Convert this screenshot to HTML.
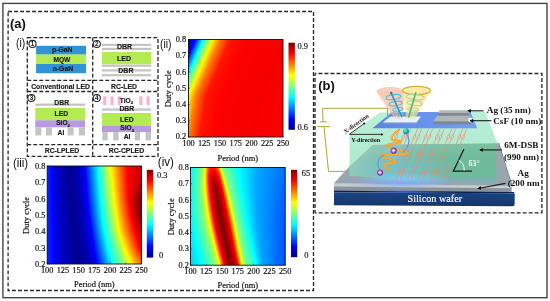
<!DOCTYPE html><html><head><meta charset="utf-8"><title>figure</title><style>html,body{margin:0;padding:0;background:#fff}svg{display:block}</style></head><body><svg width="550" height="301" viewBox="0 0 550 301"><defs><linearGradient id="b0"><stop offset="0.000" stop-color="#00009a"/><stop offset="0.069" stop-color="#0000ff"/><stop offset="0.148" stop-color="#00ffff"/><stop offset="0.199" stop-color="#80ff80"/><stop offset="0.249" stop-color="#ffff00"/><stop offset="0.326" stop-color="#ff8000"/><stop offset="0.440" stop-color="#ff1400"/><stop offset="0.606" stop-color="#ff0000"/><stop offset="0.630" stop-color="#fc0000"/><stop offset="1.000" stop-color="#f50000"/></linearGradient><linearGradient id="b1"><stop offset="0.000" stop-color="#0000a8"/><stop offset="0.060" stop-color="#0000ff"/><stop offset="0.139" stop-color="#00ffff"/><stop offset="0.190" stop-color="#80ff80"/><stop offset="0.240" stop-color="#ffff00"/><stop offset="0.317" stop-color="#ff8000"/><stop offset="0.431" stop-color="#ff1400"/><stop offset="0.597" stop-color="#ff0000"/><stop offset="0.621" stop-color="#fc0000"/><stop offset="1.000" stop-color="#f50000"/></linearGradient><linearGradient id="b2"><stop offset="0.000" stop-color="#0000b5"/><stop offset="0.051" stop-color="#0000ff"/><stop offset="0.130" stop-color="#00ffff"/><stop offset="0.181" stop-color="#80ff80"/><stop offset="0.231" stop-color="#ffff00"/><stop offset="0.308" stop-color="#ff8000"/><stop offset="0.422" stop-color="#ff1400"/><stop offset="0.588" stop-color="#ff0000"/><stop offset="0.612" stop-color="#fc0000"/><stop offset="0.993" stop-color="#f50000"/><stop offset="1.000" stop-color="#f50000"/></linearGradient><linearGradient id="b3"><stop offset="0.000" stop-color="#0000c2"/><stop offset="0.042" stop-color="#0000ff"/><stop offset="0.121" stop-color="#00ffff"/><stop offset="0.172" stop-color="#80ff80"/><stop offset="0.222" stop-color="#ffff00"/><stop offset="0.299" stop-color="#ff8000"/><stop offset="0.413" stop-color="#ff1400"/><stop offset="0.579" stop-color="#ff0000"/><stop offset="0.603" stop-color="#fc0000"/><stop offset="0.984" stop-color="#f50000"/><stop offset="1.000" stop-color="#f50000"/></linearGradient><linearGradient id="b4"><stop offset="0.000" stop-color="#0000cf"/><stop offset="0.033" stop-color="#0000ff"/><stop offset="0.112" stop-color="#00ffff"/><stop offset="0.163" stop-color="#80ff80"/><stop offset="0.213" stop-color="#ffff00"/><stop offset="0.290" stop-color="#ff8000"/><stop offset="0.404" stop-color="#ff1400"/><stop offset="0.570" stop-color="#ff0000"/><stop offset="0.594" stop-color="#fc0000"/><stop offset="0.975" stop-color="#f50000"/><stop offset="1.000" stop-color="#f60000"/></linearGradient><linearGradient id="b5"><stop offset="0.000" stop-color="#0000dc"/><stop offset="0.024" stop-color="#0000ff"/><stop offset="0.103" stop-color="#00ffff"/><stop offset="0.154" stop-color="#80ff80"/><stop offset="0.204" stop-color="#ffff00"/><stop offset="0.281" stop-color="#ff8000"/><stop offset="0.395" stop-color="#ff1400"/><stop offset="0.560" stop-color="#ff0000"/><stop offset="0.585" stop-color="#fc0000"/><stop offset="0.966" stop-color="#f50000"/><stop offset="1.000" stop-color="#f60000"/></linearGradient><linearGradient id="b6"><stop offset="0.000" stop-color="#0000e9"/><stop offset="0.015" stop-color="#0000ff"/><stop offset="0.094" stop-color="#00ffff"/><stop offset="0.144" stop-color="#80ff80"/><stop offset="0.195" stop-color="#ffff00"/><stop offset="0.271" stop-color="#ff8000"/><stop offset="0.386" stop-color="#ff1400"/><stop offset="0.551" stop-color="#ff0000"/><stop offset="0.576" stop-color="#fc0000"/><stop offset="0.957" stop-color="#f50000"/><stop offset="1.000" stop-color="#f60000"/></linearGradient><linearGradient id="b7"><stop offset="0.000" stop-color="#0000f6"/><stop offset="0.006" stop-color="#0000ff"/><stop offset="0.085" stop-color="#00ffff"/><stop offset="0.135" stop-color="#80ff80"/><stop offset="0.186" stop-color="#ffff00"/><stop offset="0.262" stop-color="#ff8000"/><stop offset="0.377" stop-color="#ff1400"/><stop offset="0.542" stop-color="#ff0000"/><stop offset="0.567" stop-color="#fc0000"/><stop offset="0.948" stop-color="#f50000"/><stop offset="1.000" stop-color="#f60000"/></linearGradient><linearGradient id="b8"><stop offset="0.000" stop-color="#000aff"/><stop offset="0.076" stop-color="#00ffff"/><stop offset="0.126" stop-color="#80ff80"/><stop offset="0.177" stop-color="#ffff00"/><stop offset="0.253" stop-color="#ff8000"/><stop offset="0.368" stop-color="#ff1400"/><stop offset="0.533" stop-color="#ff0000"/><stop offset="0.558" stop-color="#fc0000"/><stop offset="0.939" stop-color="#f50000"/><stop offset="1.000" stop-color="#f70000"/></linearGradient><linearGradient id="b9"><stop offset="0.000" stop-color="#0027ff"/><stop offset="0.067" stop-color="#00ffff"/><stop offset="0.117" stop-color="#80ff80"/><stop offset="0.168" stop-color="#ffff00"/><stop offset="0.244" stop-color="#ff8000"/><stop offset="0.359" stop-color="#ff1400"/><stop offset="0.524" stop-color="#ff0000"/><stop offset="0.549" stop-color="#fc0000"/><stop offset="0.930" stop-color="#f50000"/><stop offset="1.000" stop-color="#f70000"/></linearGradient><linearGradient id="b10"><stop offset="0.000" stop-color="#0045ff"/><stop offset="0.058" stop-color="#00ffff"/><stop offset="0.108" stop-color="#80ff80"/><stop offset="0.159" stop-color="#ffff00"/><stop offset="0.235" stop-color="#ff8000"/><stop offset="0.350" stop-color="#ff1400"/><stop offset="0.515" stop-color="#ff0000"/><stop offset="0.540" stop-color="#fc0000"/><stop offset="0.921" stop-color="#f50000"/><stop offset="1.000" stop-color="#f70000"/></linearGradient><linearGradient id="b11"><stop offset="0.000" stop-color="#0062ff"/><stop offset="0.049" stop-color="#00ffff"/><stop offset="0.099" stop-color="#80ff80"/><stop offset="0.150" stop-color="#ffff00"/><stop offset="0.226" stop-color="#ff8000"/><stop offset="0.341" stop-color="#ff1400"/><stop offset="0.506" stop-color="#ff0000"/><stop offset="0.531" stop-color="#fc0000"/><stop offset="0.912" stop-color="#f50000"/><stop offset="1.000" stop-color="#f70000"/></linearGradient><linearGradient id="b12"><stop offset="0.000" stop-color="#007fff"/><stop offset="0.040" stop-color="#00ffff"/><stop offset="0.090" stop-color="#80ff80"/><stop offset="0.141" stop-color="#ffff00"/><stop offset="0.217" stop-color="#ff8000"/><stop offset="0.332" stop-color="#ff1400"/><stop offset="0.497" stop-color="#ff0000"/><stop offset="0.522" stop-color="#fc0000"/><stop offset="0.903" stop-color="#f50000"/><stop offset="1.000" stop-color="#f80000"/></linearGradient><linearGradient id="b13"><stop offset="0.000" stop-color="#009cff"/><stop offset="0.030" stop-color="#00ffff"/><stop offset="0.081" stop-color="#80ff80"/><stop offset="0.132" stop-color="#ffff00"/><stop offset="0.208" stop-color="#ff8000"/><stop offset="0.323" stop-color="#ff1400"/><stop offset="0.488" stop-color="#ff0000"/><stop offset="0.513" stop-color="#fc0000"/><stop offset="0.894" stop-color="#f50000"/><stop offset="1.000" stop-color="#f80000"/></linearGradient><linearGradient id="b14"><stop offset="0.000" stop-color="#00baff"/><stop offset="0.021" stop-color="#00ffff"/><stop offset="0.072" stop-color="#80ff80"/><stop offset="0.123" stop-color="#ffff00"/><stop offset="0.199" stop-color="#ff8000"/><stop offset="0.314" stop-color="#ff1400"/><stop offset="0.479" stop-color="#ff0000"/><stop offset="0.504" stop-color="#fc0000"/><stop offset="0.885" stop-color="#f50000"/><stop offset="1.000" stop-color="#f80000"/></linearGradient><linearGradient id="b15"><stop offset="0.000" stop-color="#00d7ff"/><stop offset="0.012" stop-color="#00ffff"/><stop offset="0.063" stop-color="#80ff80"/><stop offset="0.114" stop-color="#ffff00"/><stop offset="0.190" stop-color="#ff8000"/><stop offset="0.305" stop-color="#ff1400"/><stop offset="0.470" stop-color="#ff0000"/><stop offset="0.495" stop-color="#fc0000"/><stop offset="0.876" stop-color="#f50000"/><stop offset="1.000" stop-color="#f90000"/></linearGradient><linearGradient id="b16"><stop offset="0.000" stop-color="#00f4ff"/><stop offset="0.003" stop-color="#00ffff"/><stop offset="0.054" stop-color="#80ff80"/><stop offset="0.105" stop-color="#ffff00"/><stop offset="0.181" stop-color="#ff8000"/><stop offset="0.295" stop-color="#ff1400"/><stop offset="0.461" stop-color="#ff0000"/><stop offset="0.486" stop-color="#fc0000"/><stop offset="0.867" stop-color="#f50000"/><stop offset="1.000" stop-color="#f90000"/></linearGradient><linearGradient id="b17"><stop offset="0.000" stop-color="#0efff1"/><stop offset="0.045" stop-color="#80ff80"/><stop offset="0.096" stop-color="#ffff00"/><stop offset="0.172" stop-color="#ff8000"/><stop offset="0.286" stop-color="#ff1400"/><stop offset="0.452" stop-color="#ff0000"/><stop offset="0.477" stop-color="#fc0000"/><stop offset="0.858" stop-color="#f50000"/><stop offset="1.000" stop-color="#f90000"/></linearGradient><linearGradient id="b18"><stop offset="0.000" stop-color="#25ffda"/><stop offset="0.036" stop-color="#80ff80"/><stop offset="0.087" stop-color="#ffff00"/><stop offset="0.163" stop-color="#ff8000"/><stop offset="0.277" stop-color="#ff1400"/><stop offset="0.443" stop-color="#ff0000"/><stop offset="0.468" stop-color="#fc0000"/><stop offset="0.849" stop-color="#f50000"/><stop offset="1.000" stop-color="#f90000"/></linearGradient><linearGradient id="b19"><stop offset="0.000" stop-color="#3bffc4"/><stop offset="0.027" stop-color="#80ff80"/><stop offset="0.078" stop-color="#ffff00"/><stop offset="0.154" stop-color="#ff8000"/><stop offset="0.268" stop-color="#ff1400"/><stop offset="0.434" stop-color="#ff0000"/><stop offset="0.459" stop-color="#fc0000"/><stop offset="0.840" stop-color="#f50000"/><stop offset="1.000" stop-color="#fa0000"/></linearGradient><linearGradient id="b20"><stop offset="0.000" stop-color="#52ffad"/><stop offset="0.018" stop-color="#80ff80"/><stop offset="0.069" stop-color="#ffff00"/><stop offset="0.145" stop-color="#ff8000"/><stop offset="0.259" stop-color="#ff1400"/><stop offset="0.425" stop-color="#ff0000"/><stop offset="0.450" stop-color="#fc0000"/><stop offset="0.831" stop-color="#f50000"/><stop offset="1.000" stop-color="#fa0000"/></linearGradient><linearGradient id="b21"><stop offset="0.000" stop-color="#69ff96"/><stop offset="0.009" stop-color="#80ff80"/><stop offset="0.060" stop-color="#ffff00"/><stop offset="0.136" stop-color="#ff8000"/><stop offset="0.250" stop-color="#ff1400"/><stop offset="0.416" stop-color="#ff0000"/><stop offset="0.441" stop-color="#fc0000"/><stop offset="0.822" stop-color="#f50000"/><stop offset="1.000" stop-color="#fa0000"/></linearGradient><linearGradient id="b22"><stop offset="0.000" stop-color="#7fff80"/><stop offset="0.000" stop-color="#80ff80"/><stop offset="0.051" stop-color="#ffff00"/><stop offset="0.127" stop-color="#ff8000"/><stop offset="0.241" stop-color="#ff1400"/><stop offset="0.407" stop-color="#ff0000"/><stop offset="0.432" stop-color="#fc0000"/><stop offset="0.813" stop-color="#f50000"/><stop offset="1.000" stop-color="#fa0000"/></linearGradient><linearGradient id="b23"><stop offset="0.000" stop-color="#96ff69"/><stop offset="0.042" stop-color="#ffff00"/><stop offset="0.118" stop-color="#ff8000"/><stop offset="0.232" stop-color="#ff1400"/><stop offset="0.398" stop-color="#ff0000"/><stop offset="0.423" stop-color="#fc0000"/><stop offset="0.804" stop-color="#f50000"/><stop offset="1.000" stop-color="#fb0000"/></linearGradient><linearGradient id="b24"><stop offset="0.000" stop-color="#adff52"/><stop offset="0.033" stop-color="#ffff00"/><stop offset="0.109" stop-color="#ff8000"/><stop offset="0.223" stop-color="#ff1400"/><stop offset="0.389" stop-color="#ff0000"/><stop offset="0.414" stop-color="#fc0000"/><stop offset="0.795" stop-color="#f50000"/><stop offset="1.000" stop-color="#fb0000"/></linearGradient><linearGradient id="b25"><stop offset="0.000" stop-color="#c3ff3c"/><stop offset="0.024" stop-color="#ffff00"/><stop offset="0.100" stop-color="#ff8000"/><stop offset="0.214" stop-color="#ff1400"/><stop offset="0.380" stop-color="#ff0000"/><stop offset="0.405" stop-color="#fc0000"/><stop offset="0.786" stop-color="#f50000"/><stop offset="1.000" stop-color="#fb0000"/></linearGradient><linearGradient id="b26"><stop offset="0.000" stop-color="#daff25"/><stop offset="0.015" stop-color="#ffff00"/><stop offset="0.091" stop-color="#ff8000"/><stop offset="0.205" stop-color="#ff1400"/><stop offset="0.371" stop-color="#ff0000"/><stop offset="0.396" stop-color="#fc0000"/><stop offset="0.777" stop-color="#f50000"/><stop offset="1.000" stop-color="#fc0000"/></linearGradient><linearGradient id="b27"><stop offset="0.000" stop-color="#f1ff0e"/><stop offset="0.006" stop-color="#ffff00"/><stop offset="0.082" stop-color="#ff8000"/><stop offset="0.196" stop-color="#ff1400"/><stop offset="0.362" stop-color="#ff0000"/><stop offset="0.387" stop-color="#fc0000"/><stop offset="0.768" stop-color="#f50000"/><stop offset="1.000" stop-color="#fc0000"/></linearGradient><linearGradient id="b28"><stop offset="0.000" stop-color="#fffd00"/><stop offset="0.075" stop-color="#ff8000"/><stop offset="0.189" stop-color="#ff1400"/><stop offset="0.355" stop-color="#ff0000"/><stop offset="0.380" stop-color="#fc0000"/><stop offset="0.761" stop-color="#f50000"/><stop offset="1.000" stop-color="#fc0000"/></linearGradient><linearGradient id="b29"><stop offset="0.000" stop-color="#fff700"/><stop offset="0.071" stop-color="#ff8000"/><stop offset="0.185" stop-color="#ff1400"/><stop offset="0.351" stop-color="#ff0000"/><stop offset="0.376" stop-color="#fc0000"/><stop offset="0.757" stop-color="#f50000"/><stop offset="1.000" stop-color="#fc0000"/></linearGradient><linearGradient id="b30"><stop offset="0.000" stop-color="#fff000"/><stop offset="0.068" stop-color="#ff8000"/><stop offset="0.182" stop-color="#ff1400"/><stop offset="0.347" stop-color="#ff0000"/><stop offset="0.372" stop-color="#fc0000"/><stop offset="0.753" stop-color="#f50000"/><stop offset="1.000" stop-color="#fc0000"/></linearGradient><linearGradient id="b31"><stop offset="0.000" stop-color="#ffea00"/><stop offset="0.064" stop-color="#ff8000"/><stop offset="0.178" stop-color="#ff1400"/><stop offset="0.344" stop-color="#ff0000"/><stop offset="0.369" stop-color="#fc0000"/><stop offset="0.750" stop-color="#f50000"/><stop offset="1.000" stop-color="#fc0000"/></linearGradient><linearGradient id="b32"><stop offset="0.000" stop-color="#ffe400"/><stop offset="0.060" stop-color="#ff8000"/><stop offset="0.175" stop-color="#ff1400"/><stop offset="0.340" stop-color="#ff0000"/><stop offset="0.365" stop-color="#fc0000"/><stop offset="0.746" stop-color="#f50000"/><stop offset="1.000" stop-color="#fc0000"/></linearGradient><linearGradient id="b33"><stop offset="0.000" stop-color="#ffde00"/><stop offset="0.057" stop-color="#ff8000"/><stop offset="0.171" stop-color="#ff1400"/><stop offset="0.337" stop-color="#ff0000"/><stop offset="0.361" stop-color="#fc0000"/><stop offset="0.742" stop-color="#f50000"/><stop offset="1.000" stop-color="#fd0000"/></linearGradient><linearGradient id="b34"><stop offset="0.000" stop-color="#ffd800"/><stop offset="0.053" stop-color="#ff8000"/><stop offset="0.167" stop-color="#ff1400"/><stop offset="0.333" stop-color="#ff0000"/><stop offset="0.358" stop-color="#fc0000"/><stop offset="0.739" stop-color="#f50000"/><stop offset="1.000" stop-color="#fd0000"/></linearGradient><linearGradient id="b35"><stop offset="0.000" stop-color="#ffd200"/><stop offset="0.049" stop-color="#ff8000"/><stop offset="0.164" stop-color="#ff1400"/><stop offset="0.329" stop-color="#ff0000"/><stop offset="0.354" stop-color="#fc0000"/><stop offset="0.735" stop-color="#f50000"/><stop offset="1.000" stop-color="#fd0000"/></linearGradient><linearGradient id="b36"><stop offset="0.000" stop-color="#ffcc00"/><stop offset="0.046" stop-color="#ff8000"/><stop offset="0.160" stop-color="#ff1400"/><stop offset="0.326" stop-color="#ff0000"/><stop offset="0.350" stop-color="#fc0000"/><stop offset="0.731" stop-color="#f50000"/><stop offset="1.000" stop-color="#fd0000"/></linearGradient><linearGradient id="b37"><stop offset="0.000" stop-color="#ffc600"/><stop offset="0.042" stop-color="#ff8000"/><stop offset="0.156" stop-color="#ff1400"/><stop offset="0.322" stop-color="#ff0000"/><stop offset="0.347" stop-color="#fc0000"/><stop offset="0.728" stop-color="#f50000"/><stop offset="1.000" stop-color="#fd0000"/></linearGradient><linearGradient id="b38"><stop offset="0.000" stop-color="#ffc000"/><stop offset="0.038" stop-color="#ff8000"/><stop offset="0.153" stop-color="#ff1400"/><stop offset="0.318" stop-color="#ff0000"/><stop offset="0.343" stop-color="#fc0000"/><stop offset="0.724" stop-color="#f50000"/><stop offset="1.000" stop-color="#fd0000"/></linearGradient><linearGradient id="b39"><stop offset="0.000" stop-color="#ffba00"/><stop offset="0.035" stop-color="#ff8000"/><stop offset="0.149" stop-color="#ff1400"/><stop offset="0.315" stop-color="#ff0000"/><stop offset="0.339" stop-color="#fc0000"/><stop offset="0.720" stop-color="#f50000"/><stop offset="1.000" stop-color="#fd0000"/></linearGradient><linearGradient id="b40"><stop offset="0.000" stop-color="#ffb300"/><stop offset="0.031" stop-color="#ff8000"/><stop offset="0.145" stop-color="#ff1400"/><stop offset="0.311" stop-color="#ff0000"/><stop offset="0.336" stop-color="#fc0000"/><stop offset="0.717" stop-color="#f50000"/><stop offset="1.000" stop-color="#fd0000"/></linearGradient><linearGradient id="b41"><stop offset="0.000" stop-color="#ffad00"/><stop offset="0.027" stop-color="#ff8000"/><stop offset="0.142" stop-color="#ff1400"/><stop offset="0.307" stop-color="#ff0000"/><stop offset="0.332" stop-color="#fc0000"/><stop offset="0.713" stop-color="#f50000"/><stop offset="1.000" stop-color="#fd0000"/></linearGradient><linearGradient id="b42"><stop offset="0.000" stop-color="#ffa700"/><stop offset="0.024" stop-color="#ff8000"/><stop offset="0.138" stop-color="#ff1400"/><stop offset="0.304" stop-color="#ff0000"/><stop offset="0.329" stop-color="#fc0000"/><stop offset="0.710" stop-color="#f50000"/><stop offset="1.000" stop-color="#fe0000"/></linearGradient><linearGradient id="b43"><stop offset="0.000" stop-color="#ffa100"/><stop offset="0.020" stop-color="#ff8000"/><stop offset="0.134" stop-color="#ff1400"/><stop offset="0.300" stop-color="#ff0000"/><stop offset="0.325" stop-color="#fc0000"/><stop offset="0.706" stop-color="#f50000"/><stop offset="1.000" stop-color="#fe0000"/></linearGradient><linearGradient id="b44"><stop offset="0.000" stop-color="#ff9b00"/><stop offset="0.016" stop-color="#ff8000"/><stop offset="0.131" stop-color="#ff1400"/><stop offset="0.296" stop-color="#ff0000"/><stop offset="0.321" stop-color="#fc0000"/><stop offset="0.702" stop-color="#f50000"/><stop offset="1.000" stop-color="#fe0000"/></linearGradient><linearGradient id="b45"><stop offset="0.000" stop-color="#ff9500"/><stop offset="0.013" stop-color="#ff8000"/><stop offset="0.127" stop-color="#ff1400"/><stop offset="0.293" stop-color="#ff0000"/><stop offset="0.318" stop-color="#fc0000"/><stop offset="0.699" stop-color="#f50000"/><stop offset="1.000" stop-color="#fe0000"/></linearGradient><linearGradient id="b46"><stop offset="0.000" stop-color="#ff8f00"/><stop offset="0.009" stop-color="#ff8000"/><stop offset="0.123" stop-color="#ff1400"/><stop offset="0.289" stop-color="#ff0000"/><stop offset="0.314" stop-color="#fc0000"/><stop offset="0.695" stop-color="#f50000"/><stop offset="1.000" stop-color="#fe0000"/></linearGradient><linearGradient id="b47"><stop offset="0.000" stop-color="#ff8900"/><stop offset="0.005" stop-color="#ff8000"/><stop offset="0.120" stop-color="#ff1400"/><stop offset="0.285" stop-color="#ff0000"/><stop offset="0.310" stop-color="#fc0000"/><stop offset="0.691" stop-color="#f50000"/><stop offset="1.000" stop-color="#fe0000"/></linearGradient><linearGradient id="b48"><stop offset="0.000" stop-color="#ff8300"/><stop offset="0.002" stop-color="#ff8000"/><stop offset="0.116" stop-color="#ff1400"/><stop offset="0.282" stop-color="#ff0000"/><stop offset="0.307" stop-color="#fc0000"/><stop offset="0.688" stop-color="#f50000"/><stop offset="1.000" stop-color="#fe0000"/></linearGradient><linearGradient id="cb2" x1="0" y1="0" x2="0" y2="1"><stop offset="0" stop-color="#800000"/><stop offset="0.125" stop-color="#ff0000"/><stop offset="0.375" stop-color="#ffff00"/><stop offset="0.5" stop-color="#80ff80"/><stop offset="0.625" stop-color="#00ffff"/><stop offset="0.875" stop-color="#0000ff"/><stop offset="1" stop-color="#000080"/></linearGradient><linearGradient id="c0"><stop offset="0.000" stop-color="#002eff"/><stop offset="0.050" stop-color="#0000ff"/><stop offset="0.110" stop-color="#0000c7"/><stop offset="0.236" stop-color="#00008f"/><stop offset="0.331" stop-color="#0000bd"/><stop offset="0.401" stop-color="#0000ff"/><stop offset="0.538" stop-color="#00ffff"/><stop offset="0.606" stop-color="#80ff80"/><stop offset="0.671" stop-color="#ffff00"/><stop offset="0.754" stop-color="#ff8000"/><stop offset="0.850" stop-color="#ff0000"/><stop offset="1.000" stop-color="#ce0000"/></linearGradient><linearGradient id="c1"><stop offset="0.000" stop-color="#002eff"/><stop offset="0.050" stop-color="#0000ff"/><stop offset="0.111" stop-color="#0000c7"/><stop offset="0.237" stop-color="#00008f"/><stop offset="0.333" stop-color="#0000bd"/><stop offset="0.402" stop-color="#0000ff"/><stop offset="0.539" stop-color="#00ffff"/><stop offset="0.608" stop-color="#80ff80"/><stop offset="0.673" stop-color="#ffff00"/><stop offset="0.755" stop-color="#ff8000"/><stop offset="0.851" stop-color="#ff0000"/><stop offset="1.000" stop-color="#cc0000"/></linearGradient><linearGradient id="c2"><stop offset="0.000" stop-color="#002eff"/><stop offset="0.050" stop-color="#0000ff"/><stop offset="0.112" stop-color="#0000c7"/><stop offset="0.239" stop-color="#00008f"/><stop offset="0.335" stop-color="#0000bd"/><stop offset="0.404" stop-color="#0000ff"/><stop offset="0.541" stop-color="#00ffff"/><stop offset="0.610" stop-color="#80ff80"/><stop offset="0.676" stop-color="#ffff00"/><stop offset="0.757" stop-color="#ff8000"/><stop offset="0.852" stop-color="#ff0000"/><stop offset="1.000" stop-color="#ca0000"/></linearGradient><linearGradient id="c3"><stop offset="0.000" stop-color="#002eff"/><stop offset="0.051" stop-color="#0000ff"/><stop offset="0.112" stop-color="#0000c7"/><stop offset="0.241" stop-color="#00008f"/><stop offset="0.337" stop-color="#0000bd"/><stop offset="0.406" stop-color="#0000ff"/><stop offset="0.543" stop-color="#00ffff"/><stop offset="0.611" stop-color="#80ff80"/><stop offset="0.678" stop-color="#ffff00"/><stop offset="0.759" stop-color="#ff8000"/><stop offset="0.852" stop-color="#ff0000"/><stop offset="1.000" stop-color="#c70000"/></linearGradient><linearGradient id="c4"><stop offset="0.000" stop-color="#002eff"/><stop offset="0.051" stop-color="#0000ff"/><stop offset="0.113" stop-color="#0000c7"/><stop offset="0.242" stop-color="#00008f"/><stop offset="0.339" stop-color="#0000bd"/><stop offset="0.407" stop-color="#0000ff"/><stop offset="0.544" stop-color="#00ffff"/><stop offset="0.613" stop-color="#80ff80"/><stop offset="0.680" stop-color="#ffff00"/><stop offset="0.760" stop-color="#ff8000"/><stop offset="0.853" stop-color="#ff0000"/><stop offset="1.000" stop-color="#c40000"/></linearGradient><linearGradient id="c5"><stop offset="0.000" stop-color="#002eff"/><stop offset="0.051" stop-color="#0000ff"/><stop offset="0.114" stop-color="#0000c7"/><stop offset="0.244" stop-color="#00008f"/><stop offset="0.341" stop-color="#0000bd"/><stop offset="0.409" stop-color="#0000ff"/><stop offset="0.546" stop-color="#00ffff"/><stop offset="0.615" stop-color="#80ff80"/><stop offset="0.683" stop-color="#ffff00"/><stop offset="0.762" stop-color="#ff8000"/><stop offset="0.854" stop-color="#ff0000"/><stop offset="1.000" stop-color="#c10000"/></linearGradient><linearGradient id="c6"><stop offset="0.000" stop-color="#002eff"/><stop offset="0.051" stop-color="#0000ff"/><stop offset="0.114" stop-color="#0000c7"/><stop offset="0.245" stop-color="#00008f"/><stop offset="0.342" stop-color="#0000bd"/><stop offset="0.410" stop-color="#0000ff"/><stop offset="0.547" stop-color="#00ffff"/><stop offset="0.617" stop-color="#80ff80"/><stop offset="0.685" stop-color="#ffff00"/><stop offset="0.763" stop-color="#ff8000"/><stop offset="0.855" stop-color="#ff0000"/><stop offset="1.000" stop-color="#be0000"/></linearGradient><linearGradient id="c7"><stop offset="0.000" stop-color="#002eff"/><stop offset="0.052" stop-color="#0000ff"/><stop offset="0.115" stop-color="#0000c7"/><stop offset="0.247" stop-color="#00008f"/><stop offset="0.344" stop-color="#0000bd"/><stop offset="0.412" stop-color="#0000ff"/><stop offset="0.549" stop-color="#00ffff"/><stop offset="0.619" stop-color="#80ff80"/><stop offset="0.687" stop-color="#ffff00"/><stop offset="0.765" stop-color="#ff8000"/><stop offset="0.855" stop-color="#ff0000"/><stop offset="1.000" stop-color="#ba0000"/></linearGradient><linearGradient id="c8"><stop offset="0.000" stop-color="#002eff"/><stop offset="0.052" stop-color="#0000ff"/><stop offset="0.115" stop-color="#0000c7"/><stop offset="0.249" stop-color="#00008f"/><stop offset="0.346" stop-color="#0000bd"/><stop offset="0.414" stop-color="#0000ff"/><stop offset="0.551" stop-color="#00ffff"/><stop offset="0.621" stop-color="#80ff80"/><stop offset="0.690" stop-color="#ffff00"/><stop offset="0.767" stop-color="#ff8000"/><stop offset="0.856" stop-color="#ff0000"/><stop offset="1.000" stop-color="#b50000"/></linearGradient><linearGradient id="c9"><stop offset="0.000" stop-color="#002eff"/><stop offset="0.052" stop-color="#0000ff"/><stop offset="0.116" stop-color="#0000c7"/><stop offset="0.250" stop-color="#00008f"/><stop offset="0.348" stop-color="#0000bd"/><stop offset="0.415" stop-color="#0000ff"/><stop offset="0.552" stop-color="#00ffff"/><stop offset="0.623" stop-color="#80ff80"/><stop offset="0.692" stop-color="#ffff00"/><stop offset="0.768" stop-color="#ff8000"/><stop offset="0.857" stop-color="#ff0000"/><stop offset="1.000" stop-color="#af0000"/></linearGradient><linearGradient id="c10"><stop offset="0.000" stop-color="#002eff"/><stop offset="0.053" stop-color="#0000ff"/><stop offset="0.117" stop-color="#0000c7"/><stop offset="0.252" stop-color="#00008f"/><stop offset="0.350" stop-color="#0000bd"/><stop offset="0.417" stop-color="#0000ff"/><stop offset="0.554" stop-color="#00ffff"/><stop offset="0.624" stop-color="#80ff80"/><stop offset="0.694" stop-color="#ffff00"/><stop offset="0.770" stop-color="#ff8000"/><stop offset="0.857" stop-color="#ff0000"/><stop offset="1.000" stop-color="#a90000"/></linearGradient><linearGradient id="c11"><stop offset="0.000" stop-color="#002eff"/><stop offset="0.053" stop-color="#0000ff"/><stop offset="0.117" stop-color="#0000c7"/><stop offset="0.253" stop-color="#00008f"/><stop offset="0.352" stop-color="#0000bd"/><stop offset="0.418" stop-color="#0000ff"/><stop offset="0.555" stop-color="#00ffff"/><stop offset="0.626" stop-color="#80ff80"/><stop offset="0.696" stop-color="#ffff00"/><stop offset="0.771" stop-color="#ff8000"/><stop offset="0.858" stop-color="#ff0000"/><stop offset="1.000" stop-color="#a20000"/></linearGradient><linearGradient id="c12"><stop offset="0.000" stop-color="#002eff"/><stop offset="0.053" stop-color="#0000ff"/><stop offset="0.118" stop-color="#0000c7"/><stop offset="0.255" stop-color="#00008f"/><stop offset="0.354" stop-color="#0000bd"/><stop offset="0.420" stop-color="#0000ff"/><stop offset="0.557" stop-color="#00ffff"/><stop offset="0.628" stop-color="#80ff80"/><stop offset="0.699" stop-color="#ffff00"/><stop offset="0.773" stop-color="#ff8000"/><stop offset="0.859" stop-color="#ff0000"/><stop offset="1.000" stop-color="#990000"/></linearGradient><linearGradient id="c13"><stop offset="0.000" stop-color="#002eff"/><stop offset="0.053" stop-color="#0000ff"/><stop offset="0.119" stop-color="#0000c7"/><stop offset="0.257" stop-color="#00008f"/><stop offset="0.356" stop-color="#0000bd"/><stop offset="0.422" stop-color="#0000ff"/><stop offset="0.559" stop-color="#00ffff"/><stop offset="0.630" stop-color="#80ff80"/><stop offset="0.701" stop-color="#ffff00"/><stop offset="0.775" stop-color="#ff8000"/><stop offset="0.859" stop-color="#ff0000"/><stop offset="1.000" stop-color="#8e0000"/></linearGradient><linearGradient id="c14"><stop offset="0.000" stop-color="#002eff"/><stop offset="0.054" stop-color="#0000ff"/><stop offset="0.119" stop-color="#0000c7"/><stop offset="0.258" stop-color="#00008f"/><stop offset="0.358" stop-color="#0000bd"/><stop offset="0.423" stop-color="#0000ff"/><stop offset="0.560" stop-color="#00ffff"/><stop offset="0.632" stop-color="#80ff80"/><stop offset="0.703" stop-color="#ffff00"/><stop offset="0.776" stop-color="#ff8000"/><stop offset="0.860" stop-color="#ff0000"/><stop offset="1.000" stop-color="#800000"/></linearGradient><linearGradient id="c15"><stop offset="0.000" stop-color="#002eff"/><stop offset="0.054" stop-color="#0000ff"/><stop offset="0.120" stop-color="#0000c7"/><stop offset="0.260" stop-color="#00008f"/><stop offset="0.360" stop-color="#0000bd"/><stop offset="0.425" stop-color="#0000ff"/><stop offset="0.562" stop-color="#00ffff"/><stop offset="0.634" stop-color="#80ff80"/><stop offset="0.706" stop-color="#ffff00"/><stop offset="0.778" stop-color="#ff8000"/><stop offset="0.861" stop-color="#ff0000"/><stop offset="0.983" stop-color="#800000"/><stop offset="1.000" stop-color="#800000"/></linearGradient><linearGradient id="c16"><stop offset="0.000" stop-color="#002eff"/><stop offset="0.054" stop-color="#0000ff"/><stop offset="0.121" stop-color="#0000c7"/><stop offset="0.262" stop-color="#00008f"/><stop offset="0.362" stop-color="#0000bd"/><stop offset="0.427" stop-color="#0000ff"/><stop offset="0.564" stop-color="#00ffff"/><stop offset="0.636" stop-color="#80ff80"/><stop offset="0.708" stop-color="#ffff00"/><stop offset="0.780" stop-color="#ff8000"/><stop offset="0.863" stop-color="#ff0000"/><stop offset="0.980" stop-color="#800000"/><stop offset="1.000" stop-color="#800000"/></linearGradient><linearGradient id="c17"><stop offset="0.000" stop-color="#002eff"/><stop offset="0.055" stop-color="#0000ff"/><stop offset="0.122" stop-color="#0000c7"/><stop offset="0.264" stop-color="#00008f"/><stop offset="0.364" stop-color="#0000bd"/><stop offset="0.429" stop-color="#0000ff"/><stop offset="0.566" stop-color="#00ffff"/><stop offset="0.639" stop-color="#80ff80"/><stop offset="0.711" stop-color="#ffff00"/><stop offset="0.783" stop-color="#ff8000"/><stop offset="0.866" stop-color="#ff0000"/><stop offset="0.981" stop-color="#800000"/><stop offset="1.000" stop-color="#800000"/></linearGradient><linearGradient id="c18"><stop offset="0.000" stop-color="#002eff"/><stop offset="0.055" stop-color="#0000ff"/><stop offset="0.123" stop-color="#0000c7"/><stop offset="0.266" stop-color="#00008f"/><stop offset="0.366" stop-color="#0000bd"/><stop offset="0.431" stop-color="#0000ff"/><stop offset="0.568" stop-color="#00ffff"/><stop offset="0.642" stop-color="#80ff80"/><stop offset="0.714" stop-color="#ffff00"/><stop offset="0.786" stop-color="#ff8000"/><stop offset="0.869" stop-color="#ff0000"/><stop offset="0.982" stop-color="#800000"/><stop offset="1.000" stop-color="#800000"/></linearGradient><linearGradient id="c19"><stop offset="0.000" stop-color="#002eff"/><stop offset="0.056" stop-color="#0000ff"/><stop offset="0.124" stop-color="#0000c7"/><stop offset="0.269" stop-color="#00008f"/><stop offset="0.369" stop-color="#0000bd"/><stop offset="0.434" stop-color="#0000ff"/><stop offset="0.570" stop-color="#00ffff"/><stop offset="0.645" stop-color="#80ff80"/><stop offset="0.717" stop-color="#ffff00"/><stop offset="0.789" stop-color="#ff8000"/><stop offset="0.872" stop-color="#ff0000"/><stop offset="0.982" stop-color="#800000"/><stop offset="1.000" stop-color="#800000"/></linearGradient><linearGradient id="c20"><stop offset="0.000" stop-color="#002eff"/><stop offset="0.056" stop-color="#0000ff"/><stop offset="0.125" stop-color="#0000c7"/><stop offset="0.271" stop-color="#00008f"/><stop offset="0.371" stop-color="#0000bd"/><stop offset="0.436" stop-color="#0000ff"/><stop offset="0.572" stop-color="#00ffff"/><stop offset="0.648" stop-color="#80ff80"/><stop offset="0.720" stop-color="#ffff00"/><stop offset="0.792" stop-color="#ff8000"/><stop offset="0.875" stop-color="#ff0000"/><stop offset="0.983" stop-color="#800000"/><stop offset="1.000" stop-color="#800000"/></linearGradient><linearGradient id="c21"><stop offset="0.000" stop-color="#002eff"/><stop offset="0.057" stop-color="#0000ff"/><stop offset="0.127" stop-color="#0000c7"/><stop offset="0.273" stop-color="#00008f"/><stop offset="0.373" stop-color="#0000bd"/><stop offset="0.438" stop-color="#0000ff"/><stop offset="0.574" stop-color="#00ffff"/><stop offset="0.650" stop-color="#80ff80"/><stop offset="0.722" stop-color="#ffff00"/><stop offset="0.794" stop-color="#ff8000"/><stop offset="0.877" stop-color="#ff0000"/><stop offset="0.983" stop-color="#800000"/><stop offset="1.000" stop-color="#800000"/></linearGradient><linearGradient id="c22"><stop offset="0.000" stop-color="#002eff"/><stop offset="0.057" stop-color="#0000ff"/><stop offset="0.128" stop-color="#0000c7"/><stop offset="0.275" stop-color="#00008f"/><stop offset="0.375" stop-color="#0000bd"/><stop offset="0.440" stop-color="#0000ff"/><stop offset="0.576" stop-color="#00ffff"/><stop offset="0.653" stop-color="#80ff80"/><stop offset="0.725" stop-color="#ffff00"/><stop offset="0.797" stop-color="#ff8000"/><stop offset="0.880" stop-color="#ff0000"/><stop offset="0.984" stop-color="#800000"/><stop offset="1.000" stop-color="#800000"/></linearGradient><linearGradient id="c23"><stop offset="0.000" stop-color="#002eff"/><stop offset="0.058" stop-color="#0000ff"/><stop offset="0.129" stop-color="#0000c7"/><stop offset="0.278" stop-color="#00008f"/><stop offset="0.378" stop-color="#0000bd"/><stop offset="0.443" stop-color="#0000ff"/><stop offset="0.578" stop-color="#00ffff"/><stop offset="0.656" stop-color="#80ff80"/><stop offset="0.728" stop-color="#ffff00"/><stop offset="0.800" stop-color="#ff8000"/><stop offset="0.883" stop-color="#ff0000"/><stop offset="0.984" stop-color="#800000"/><stop offset="1.000" stop-color="#800000"/></linearGradient><linearGradient id="c24"><stop offset="0.000" stop-color="#002eff"/><stop offset="0.059" stop-color="#0000ff"/><stop offset="0.130" stop-color="#0000c7"/><stop offset="0.280" stop-color="#00008f"/><stop offset="0.380" stop-color="#0000bd"/><stop offset="0.445" stop-color="#0000ff"/><stop offset="0.580" stop-color="#00ffff"/><stop offset="0.659" stop-color="#80ff80"/><stop offset="0.731" stop-color="#ffff00"/><stop offset="0.803" stop-color="#ff8000"/><stop offset="0.886" stop-color="#ff0000"/><stop offset="0.985" stop-color="#800000"/><stop offset="1.000" stop-color="#800000"/></linearGradient><linearGradient id="c25"><stop offset="0.000" stop-color="#002eff"/><stop offset="0.059" stop-color="#0000ff"/><stop offset="0.131" stop-color="#0000c7"/><stop offset="0.282" stop-color="#00008f"/><stop offset="0.382" stop-color="#0000bd"/><stop offset="0.448" stop-color="#0000ff"/><stop offset="0.583" stop-color="#00ffff"/><stop offset="0.663" stop-color="#80ff80"/><stop offset="0.734" stop-color="#ffff00"/><stop offset="0.807" stop-color="#ff8000"/><stop offset="0.891" stop-color="#ff0000"/><stop offset="0.992" stop-color="#800000"/><stop offset="1.000" stop-color="#800000"/></linearGradient><linearGradient id="c26"><stop offset="0.000" stop-color="#002eff"/><stop offset="0.060" stop-color="#0000ff"/><stop offset="0.132" stop-color="#0000c7"/><stop offset="0.285" stop-color="#00008f"/><stop offset="0.385" stop-color="#0000bd"/><stop offset="0.451" stop-color="#0000ff"/><stop offset="0.586" stop-color="#00ffff"/><stop offset="0.668" stop-color="#80ff80"/><stop offset="0.738" stop-color="#ffff00"/><stop offset="0.812" stop-color="#ff8000"/><stop offset="0.896" stop-color="#ff0000"/><stop offset="0.998" stop-color="#800000"/><stop offset="1.000" stop-color="#800000"/></linearGradient><linearGradient id="c27"><stop offset="0.000" stop-color="#002eff"/><stop offset="0.060" stop-color="#0000ff"/><stop offset="0.134" stop-color="#0000c7"/><stop offset="0.287" stop-color="#00008f"/><stop offset="0.387" stop-color="#0000bd"/><stop offset="0.454" stop-color="#0000ff"/><stop offset="0.589" stop-color="#00ffff"/><stop offset="0.672" stop-color="#80ff80"/><stop offset="0.741" stop-color="#ffff00"/><stop offset="0.816" stop-color="#ff8000"/><stop offset="0.901" stop-color="#ff0000"/><stop offset="1.000" stop-color="#850000"/></linearGradient><linearGradient id="c28"><stop offset="0.000" stop-color="#002eff"/><stop offset="0.061" stop-color="#0000ff"/><stop offset="0.135" stop-color="#0000c7"/><stop offset="0.290" stop-color="#00008f"/><stop offset="0.390" stop-color="#0000bd"/><stop offset="0.457" stop-color="#0000ff"/><stop offset="0.592" stop-color="#00ffff"/><stop offset="0.676" stop-color="#80ff80"/><stop offset="0.745" stop-color="#ffff00"/><stop offset="0.820" stop-color="#ff8000"/><stop offset="0.907" stop-color="#ff0000"/><stop offset="1.000" stop-color="#8d0000"/></linearGradient><linearGradient id="c29"><stop offset="0.000" stop-color="#002eff"/><stop offset="0.061" stop-color="#0000ff"/><stop offset="0.136" stop-color="#0000c7"/><stop offset="0.292" stop-color="#00008f"/><stop offset="0.392" stop-color="#0000bd"/><stop offset="0.460" stop-color="#0000ff"/><stop offset="0.595" stop-color="#00ffff"/><stop offset="0.681" stop-color="#80ff80"/><stop offset="0.748" stop-color="#ffff00"/><stop offset="0.825" stop-color="#ff8000"/><stop offset="0.912" stop-color="#ff0000"/><stop offset="1.000" stop-color="#950000"/></linearGradient><linearGradient id="c30"><stop offset="0.000" stop-color="#002eff"/><stop offset="0.062" stop-color="#0000ff"/><stop offset="0.137" stop-color="#0000c7"/><stop offset="0.294" stop-color="#00008f"/><stop offset="0.394" stop-color="#0000bd"/><stop offset="0.463" stop-color="#0000ff"/><stop offset="0.598" stop-color="#00ffff"/><stop offset="0.685" stop-color="#80ff80"/><stop offset="0.752" stop-color="#ffff00"/><stop offset="0.829" stop-color="#ff8000"/><stop offset="0.917" stop-color="#ff0000"/><stop offset="1.000" stop-color="#9d0000"/></linearGradient><linearGradient id="c31"><stop offset="0.000" stop-color="#002eff"/><stop offset="0.062" stop-color="#0000ff"/><stop offset="0.138" stop-color="#0000c7"/><stop offset="0.297" stop-color="#00008f"/><stop offset="0.397" stop-color="#0000bd"/><stop offset="0.466" stop-color="#0000ff"/><stop offset="0.601" stop-color="#00ffff"/><stop offset="0.689" stop-color="#80ff80"/><stop offset="0.755" stop-color="#ffff00"/><stop offset="0.833" stop-color="#ff8000"/><stop offset="0.922" stop-color="#ff0000"/><stop offset="1.000" stop-color="#a40000"/></linearGradient><linearGradient id="c32"><stop offset="0.000" stop-color="#002eff"/><stop offset="0.063" stop-color="#0000ff"/><stop offset="0.140" stop-color="#0000c7"/><stop offset="0.299" stop-color="#00008f"/><stop offset="0.399" stop-color="#0000bd"/><stop offset="0.469" stop-color="#0000ff"/><stop offset="0.604" stop-color="#00ffff"/><stop offset="0.694" stop-color="#80ff80"/><stop offset="0.759" stop-color="#ffff00"/><stop offset="0.838" stop-color="#ff8000"/><stop offset="0.927" stop-color="#ff0000"/><stop offset="1.000" stop-color="#ab0000"/></linearGradient><linearGradient id="c33"><stop offset="0.000" stop-color="#002eff"/><stop offset="0.063" stop-color="#0000ff"/><stop offset="0.141" stop-color="#0000c7"/><stop offset="0.302" stop-color="#00008f"/><stop offset="0.402" stop-color="#0000bd"/><stop offset="0.472" stop-color="#0000ff"/><stop offset="0.608" stop-color="#00ffff"/><stop offset="0.699" stop-color="#80ff80"/><stop offset="0.765" stop-color="#ffff00"/><stop offset="0.844" stop-color="#ff8000"/><stop offset="0.933" stop-color="#ff0000"/><stop offset="1.000" stop-color="#b30000"/></linearGradient><linearGradient id="c34"><stop offset="0.000" stop-color="#002eff"/><stop offset="0.064" stop-color="#0000ff"/><stop offset="0.142" stop-color="#0000c7"/><stop offset="0.304" stop-color="#00008f"/><stop offset="0.406" stop-color="#0000bd"/><stop offset="0.476" stop-color="#0000ff"/><stop offset="0.613" stop-color="#00ffff"/><stop offset="0.705" stop-color="#80ff80"/><stop offset="0.772" stop-color="#ffff00"/><stop offset="0.851" stop-color="#ff8000"/><stop offset="0.940" stop-color="#ff0000"/><stop offset="1.000" stop-color="#ba0000"/></linearGradient><linearGradient id="c35"><stop offset="0.000" stop-color="#002eff"/><stop offset="0.064" stop-color="#0000ff"/><stop offset="0.143" stop-color="#0000c7"/><stop offset="0.306" stop-color="#00008f"/><stop offset="0.409" stop-color="#0000bd"/><stop offset="0.479" stop-color="#0000ff"/><stop offset="0.617" stop-color="#00ffff"/><stop offset="0.711" stop-color="#80ff80"/><stop offset="0.778" stop-color="#ffff00"/><stop offset="0.859" stop-color="#ff8000"/><stop offset="0.947" stop-color="#ff0000"/><stop offset="1.000" stop-color="#c20000"/></linearGradient><linearGradient id="c36"><stop offset="0.000" stop-color="#002eff"/><stop offset="0.065" stop-color="#0000ff"/><stop offset="0.144" stop-color="#0000c7"/><stop offset="0.308" stop-color="#00008f"/><stop offset="0.412" stop-color="#0000bd"/><stop offset="0.482" stop-color="#0000ff"/><stop offset="0.622" stop-color="#00ffff"/><stop offset="0.717" stop-color="#80ff80"/><stop offset="0.785" stop-color="#ffff00"/><stop offset="0.866" stop-color="#ff8000"/><stop offset="0.953" stop-color="#ff0000"/><stop offset="1.000" stop-color="#ca0000"/></linearGradient><linearGradient id="c37"><stop offset="0.000" stop-color="#002eff"/><stop offset="0.065" stop-color="#0000ff"/><stop offset="0.145" stop-color="#0000c7"/><stop offset="0.311" stop-color="#00008f"/><stop offset="0.416" stop-color="#0000bd"/><stop offset="0.486" stop-color="#0000ff"/><stop offset="0.626" stop-color="#00ffff"/><stop offset="0.724" stop-color="#80ff80"/><stop offset="0.792" stop-color="#ffff00"/><stop offset="0.873" stop-color="#ff8000"/><stop offset="0.960" stop-color="#ff0000"/><stop offset="1.000" stop-color="#d10000"/></linearGradient><linearGradient id="c38"><stop offset="0.000" stop-color="#002eff"/><stop offset="0.066" stop-color="#0000ff"/><stop offset="0.146" stop-color="#0000c7"/><stop offset="0.313" stop-color="#00008f"/><stop offset="0.419" stop-color="#0000bd"/><stop offset="0.489" stop-color="#0000ff"/><stop offset="0.631" stop-color="#00ffff"/><stop offset="0.730" stop-color="#80ff80"/><stop offset="0.799" stop-color="#ffff00"/><stop offset="0.881" stop-color="#ff8000"/><stop offset="0.966" stop-color="#ff0000"/><stop offset="1.000" stop-color="#d90000"/></linearGradient><linearGradient id="c39"><stop offset="0.000" stop-color="#002eff"/><stop offset="0.066" stop-color="#0000ff"/><stop offset="0.148" stop-color="#0000c7"/><stop offset="0.315" stop-color="#00008f"/><stop offset="0.423" stop-color="#0000bd"/><stop offset="0.493" stop-color="#0000ff"/><stop offset="0.635" stop-color="#00ffff"/><stop offset="0.736" stop-color="#80ff80"/><stop offset="0.806" stop-color="#ffff00"/><stop offset="0.888" stop-color="#ff8000"/><stop offset="0.973" stop-color="#ff0000"/><stop offset="1.000" stop-color="#e00000"/></linearGradient><linearGradient id="c40"><stop offset="0.000" stop-color="#002eff"/><stop offset="0.067" stop-color="#0000ff"/><stop offset="0.149" stop-color="#0000c7"/><stop offset="0.317" stop-color="#00008f"/><stop offset="0.426" stop-color="#0000bd"/><stop offset="0.496" stop-color="#0000ff"/><stop offset="0.640" stop-color="#00ffff"/><stop offset="0.742" stop-color="#80ff80"/><stop offset="0.813" stop-color="#ffff00"/><stop offset="0.896" stop-color="#ff8000"/><stop offset="0.979" stop-color="#ff0000"/><stop offset="1.000" stop-color="#e80000"/></linearGradient><linearGradient id="c41"><stop offset="0.000" stop-color="#002eff"/><stop offset="0.067" stop-color="#0000ff"/><stop offset="0.150" stop-color="#0000c7"/><stop offset="0.320" stop-color="#00008f"/><stop offset="0.429" stop-color="#0000bd"/><stop offset="0.499" stop-color="#0000ff"/><stop offset="0.644" stop-color="#00ffff"/><stop offset="0.748" stop-color="#80ff80"/><stop offset="0.820" stop-color="#ffff00"/><stop offset="0.903" stop-color="#ff8000"/><stop offset="0.986" stop-color="#ff0000"/><stop offset="1.000" stop-color="#ef0000"/></linearGradient><linearGradient id="c42"><stop offset="0.000" stop-color="#002eff"/><stop offset="0.068" stop-color="#0000ff"/><stop offset="0.151" stop-color="#0000c7"/><stop offset="0.322" stop-color="#00008f"/><stop offset="0.433" stop-color="#0000bd"/><stop offset="0.503" stop-color="#0000ff"/><stop offset="0.650" stop-color="#00ffff"/><stop offset="0.754" stop-color="#80ff80"/><stop offset="0.829" stop-color="#ffff00"/><stop offset="0.912" stop-color="#ff8000"/><stop offset="0.997" stop-color="#ff0000"/><stop offset="1.000" stop-color="#fb0000"/></linearGradient><linearGradient id="c43"><stop offset="0.000" stop-color="#002eff"/><stop offset="0.069" stop-color="#0000ff"/><stop offset="0.153" stop-color="#0000c7"/><stop offset="0.324" stop-color="#00008f"/><stop offset="0.438" stop-color="#0000bd"/><stop offset="0.508" stop-color="#0000ff"/><stop offset="0.656" stop-color="#00ffff"/><stop offset="0.761" stop-color="#80ff80"/><stop offset="0.837" stop-color="#ffff00"/><stop offset="0.922" stop-color="#ff8000"/><stop offset="1.000" stop-color="#ff0c00"/></linearGradient><linearGradient id="c44"><stop offset="0.000" stop-color="#002eff"/><stop offset="0.069" stop-color="#0000ff"/><stop offset="0.154" stop-color="#0000c7"/><stop offset="0.326" stop-color="#00008f"/><stop offset="0.442" stop-color="#0000bd"/><stop offset="0.512" stop-color="#0000ff"/><stop offset="0.662" stop-color="#00ffff"/><stop offset="0.767" stop-color="#80ff80"/><stop offset="0.846" stop-color="#ffff00"/><stop offset="0.932" stop-color="#ff8000"/><stop offset="1.000" stop-color="#ff1c00"/></linearGradient><linearGradient id="c45"><stop offset="0.000" stop-color="#002eff"/><stop offset="0.070" stop-color="#0000ff"/><stop offset="0.155" stop-color="#0000c7"/><stop offset="0.328" stop-color="#00008f"/><stop offset="0.446" stop-color="#0000bd"/><stop offset="0.516" stop-color="#0000ff"/><stop offset="0.668" stop-color="#00ffff"/><stop offset="0.774" stop-color="#80ff80"/><stop offset="0.855" stop-color="#ffff00"/><stop offset="0.942" stop-color="#ff8000"/><stop offset="1.000" stop-color="#ff2c00"/></linearGradient><linearGradient id="c46"><stop offset="0.000" stop-color="#002eff"/><stop offset="0.070" stop-color="#0000ff"/><stop offset="0.157" stop-color="#0000c7"/><stop offset="0.330" stop-color="#00008f"/><stop offset="0.450" stop-color="#0000bd"/><stop offset="0.520" stop-color="#0000ff"/><stop offset="0.673" stop-color="#00ffff"/><stop offset="0.780" stop-color="#80ff80"/><stop offset="0.864" stop-color="#ffff00"/><stop offset="0.952" stop-color="#ff8000"/><stop offset="1.000" stop-color="#ff3b00"/></linearGradient><linearGradient id="c47"><stop offset="0.000" stop-color="#002eff"/><stop offset="0.071" stop-color="#0000ff"/><stop offset="0.158" stop-color="#0000c7"/><stop offset="0.332" stop-color="#00008f"/><stop offset="0.454" stop-color="#0000bd"/><stop offset="0.524" stop-color="#0000ff"/><stop offset="0.679" stop-color="#00ffff"/><stop offset="0.786" stop-color="#80ff80"/><stop offset="0.873" stop-color="#ffff00"/><stop offset="0.961" stop-color="#ff8000"/><stop offset="1.000" stop-color="#ff4a00"/></linearGradient><linearGradient id="c48"><stop offset="0.000" stop-color="#002eff"/><stop offset="0.072" stop-color="#0000ff"/><stop offset="0.159" stop-color="#0000c7"/><stop offset="0.334" stop-color="#00008f"/><stop offset="0.458" stop-color="#0000bd"/><stop offset="0.528" stop-color="#0000ff"/><stop offset="0.685" stop-color="#00ffff"/><stop offset="0.793" stop-color="#80ff80"/><stop offset="0.882" stop-color="#ffff00"/><stop offset="0.971" stop-color="#ff8000"/><stop offset="1.000" stop-color="#ff5800"/></linearGradient><linearGradient id="cb3" x1="0" y1="0" x2="0" y2="1"><stop offset="0" stop-color="#800000"/><stop offset="0.125" stop-color="#ff0000"/><stop offset="0.375" stop-color="#ffff00"/><stop offset="0.5" stop-color="#80ff80"/><stop offset="0.625" stop-color="#00ffff"/><stop offset="0.875" stop-color="#0000ff"/><stop offset="1" stop-color="#000080"/></linearGradient><linearGradient id="d0"><stop offset="0.000" stop-color="#00fcff"/><stop offset="0.011" stop-color="#00ffff"/><stop offset="0.121" stop-color="#80ff80"/><stop offset="0.156" stop-color="#ffff00"/><stop offset="0.187" stop-color="#ff4e00"/><stop offset="0.213" stop-color="#ff1d00"/><stop offset="0.236" stop-color="#ff1400"/><stop offset="0.259" stop-color="#ff1d00"/><stop offset="0.285" stop-color="#ff4e00"/><stop offset="0.314" stop-color="#ffff00"/><stop offset="0.340" stop-color="#80ff80"/><stop offset="0.506" stop-color="#00ffff"/><stop offset="0.705" stop-color="#00a8ff"/><stop offset="1.000" stop-color="#0070ff"/></linearGradient><linearGradient id="d1"><stop offset="0.000" stop-color="#00fcff"/><stop offset="0.011" stop-color="#00ffff"/><stop offset="0.117" stop-color="#80ff80"/><stop offset="0.154" stop-color="#ffff00"/><stop offset="0.187" stop-color="#ff4000"/><stop offset="0.215" stop-color="#ff0800"/><stop offset="0.227" stop-color="#ff0000"/><stop offset="0.239" stop-color="#f80000"/><stop offset="0.251" stop-color="#ff0000"/><stop offset="0.264" stop-color="#ff0800"/><stop offset="0.291" stop-color="#ff4000"/><stop offset="0.321" stop-color="#ffff00"/><stop offset="0.349" stop-color="#80ff80"/><stop offset="0.509" stop-color="#00ffff"/><stop offset="0.704" stop-color="#00a8ff"/><stop offset="1.000" stop-color="#006fff"/></linearGradient><linearGradient id="d2"><stop offset="0.000" stop-color="#00fdff"/><stop offset="0.010" stop-color="#00ffff"/><stop offset="0.114" stop-color="#80ff80"/><stop offset="0.153" stop-color="#ffff00"/><stop offset="0.188" stop-color="#ff3400"/><stop offset="0.212" stop-color="#ff0000"/><stop offset="0.216" stop-color="#f60000"/><stop offset="0.242" stop-color="#e10000"/><stop offset="0.268" stop-color="#f60000"/><stop offset="0.272" stop-color="#ff0000"/><stop offset="0.296" stop-color="#ff3400"/><stop offset="0.328" stop-color="#ffff00"/><stop offset="0.357" stop-color="#80ff80"/><stop offset="0.512" stop-color="#00ffff"/><stop offset="0.703" stop-color="#00a8ff"/><stop offset="1.000" stop-color="#006eff"/></linearGradient><linearGradient id="d3"><stop offset="0.000" stop-color="#00fdff"/><stop offset="0.009" stop-color="#00ffff"/><stop offset="0.112" stop-color="#80ff80"/><stop offset="0.152" stop-color="#ffff00"/><stop offset="0.188" stop-color="#ff2a00"/><stop offset="0.208" stop-color="#ff0000"/><stop offset="0.218" stop-color="#e80000"/><stop offset="0.245" stop-color="#cf0000"/><stop offset="0.272" stop-color="#e80000"/><stop offset="0.282" stop-color="#ff0000"/><stop offset="0.302" stop-color="#ff2a00"/><stop offset="0.335" stop-color="#ffff00"/><stop offset="0.365" stop-color="#80ff80"/><stop offset="0.515" stop-color="#00ffff"/><stop offset="0.702" stop-color="#00a8ff"/><stop offset="1.000" stop-color="#006dff"/></linearGradient><linearGradient id="d4"><stop offset="0.000" stop-color="#00fdff"/><stop offset="0.009" stop-color="#00ffff"/><stop offset="0.110" stop-color="#80ff80"/><stop offset="0.151" stop-color="#ffff00"/><stop offset="0.189" stop-color="#ff2300"/><stop offset="0.205" stop-color="#ff0000"/><stop offset="0.220" stop-color="#dd0000"/><stop offset="0.248" stop-color="#c10000"/><stop offset="0.276" stop-color="#dd0000"/><stop offset="0.291" stop-color="#ff0000"/><stop offset="0.307" stop-color="#ff2300"/><stop offset="0.341" stop-color="#ffff00"/><stop offset="0.372" stop-color="#80ff80"/><stop offset="0.518" stop-color="#00ffff"/><stop offset="0.701" stop-color="#00a8ff"/><stop offset="1.000" stop-color="#006cff"/></linearGradient><linearGradient id="d5"><stop offset="0.000" stop-color="#00fdff"/><stop offset="0.008" stop-color="#00ffff"/><stop offset="0.108" stop-color="#80ff80"/><stop offset="0.151" stop-color="#ffff00"/><stop offset="0.190" stop-color="#ff1c00"/><stop offset="0.203" stop-color="#ff0000"/><stop offset="0.222" stop-color="#d40000"/><stop offset="0.251" stop-color="#b50000"/><stop offset="0.279" stop-color="#d40000"/><stop offset="0.299" stop-color="#ff0000"/><stop offset="0.312" stop-color="#ff1c00"/><stop offset="0.347" stop-color="#ffff00"/><stop offset="0.379" stop-color="#80ff80"/><stop offset="0.521" stop-color="#00ffff"/><stop offset="0.701" stop-color="#00a8ff"/><stop offset="1.000" stop-color="#006aff"/></linearGradient><linearGradient id="d6"><stop offset="0.000" stop-color="#00fdff"/><stop offset="0.008" stop-color="#00ffff"/><stop offset="0.107" stop-color="#80ff80"/><stop offset="0.151" stop-color="#ffff00"/><stop offset="0.192" stop-color="#ff1700"/><stop offset="0.202" stop-color="#ff0000"/><stop offset="0.225" stop-color="#cc0000"/><stop offset="0.254" stop-color="#ab0000"/><stop offset="0.283" stop-color="#cc0000"/><stop offset="0.306" stop-color="#ff0000"/><stop offset="0.316" stop-color="#ff1700"/><stop offset="0.353" stop-color="#ffff00"/><stop offset="0.386" stop-color="#80ff80"/><stop offset="0.524" stop-color="#00ffff"/><stop offset="0.700" stop-color="#00a8ff"/><stop offset="1.000" stop-color="#0069ff"/></linearGradient><linearGradient id="d7"><stop offset="0.000" stop-color="#00fdff"/><stop offset="0.007" stop-color="#00ffff"/><stop offset="0.106" stop-color="#80ff80"/><stop offset="0.152" stop-color="#ffff00"/><stop offset="0.193" stop-color="#ff1300"/><stop offset="0.201" stop-color="#ff0000"/><stop offset="0.227" stop-color="#c60000"/><stop offset="0.257" stop-color="#a30000"/><stop offset="0.287" stop-color="#c60000"/><stop offset="0.313" stop-color="#ff0000"/><stop offset="0.321" stop-color="#ff1300"/><stop offset="0.359" stop-color="#ffff00"/><stop offset="0.393" stop-color="#80ff80"/><stop offset="0.527" stop-color="#00ffff"/><stop offset="0.700" stop-color="#00a8ff"/><stop offset="1.000" stop-color="#0068ff"/></linearGradient><linearGradient id="d8"><stop offset="0.000" stop-color="#00fdff"/><stop offset="0.007" stop-color="#00ffff"/><stop offset="0.106" stop-color="#80ff80"/><stop offset="0.152" stop-color="#ffff00"/><stop offset="0.195" stop-color="#ff0f00"/><stop offset="0.202" stop-color="#ff0000"/><stop offset="0.229" stop-color="#c10000"/><stop offset="0.260" stop-color="#9c0000"/><stop offset="0.291" stop-color="#c10000"/><stop offset="0.319" stop-color="#ff0000"/><stop offset="0.326" stop-color="#ff0f00"/><stop offset="0.364" stop-color="#ffff00"/><stop offset="0.399" stop-color="#80ff80"/><stop offset="0.530" stop-color="#00ffff"/><stop offset="0.699" stop-color="#00a8ff"/><stop offset="1.000" stop-color="#0067ff"/></linearGradient><linearGradient id="d9"><stop offset="0.000" stop-color="#00fdff"/><stop offset="0.007" stop-color="#00ffff"/><stop offset="0.106" stop-color="#80ff80"/><stop offset="0.153" stop-color="#ffff00"/><stop offset="0.197" stop-color="#ff0c00"/><stop offset="0.202" stop-color="#ff0000"/><stop offset="0.232" stop-color="#bd0000"/><stop offset="0.263" stop-color="#970000"/><stop offset="0.295" stop-color="#bd0000"/><stop offset="0.325" stop-color="#ff0000"/><stop offset="0.330" stop-color="#ff0c00"/><stop offset="0.370" stop-color="#ffff00"/><stop offset="0.405" stop-color="#80ff80"/><stop offset="0.533" stop-color="#00ffff"/><stop offset="0.699" stop-color="#00a8ff"/><stop offset="1.000" stop-color="#0066ff"/></linearGradient><linearGradient id="d10"><stop offset="0.000" stop-color="#00fdff"/><stop offset="0.006" stop-color="#00ffff"/><stop offset="0.106" stop-color="#80ff80"/><stop offset="0.155" stop-color="#ffff00"/><stop offset="0.199" stop-color="#ff0a00"/><stop offset="0.203" stop-color="#ff0000"/><stop offset="0.235" stop-color="#ba0000"/><stop offset="0.267" stop-color="#930000"/><stop offset="0.299" stop-color="#ba0000"/><stop offset="0.330" stop-color="#ff0000"/><stop offset="0.335" stop-color="#ff0a00"/><stop offset="0.375" stop-color="#ffff00"/><stop offset="0.411" stop-color="#80ff80"/><stop offset="0.537" stop-color="#00ffff"/><stop offset="0.698" stop-color="#00a8ff"/><stop offset="1.000" stop-color="#0065ff"/></linearGradient><linearGradient id="d11"><stop offset="0.000" stop-color="#00fdff"/><stop offset="0.006" stop-color="#00ffff"/><stop offset="0.107" stop-color="#80ff80"/><stop offset="0.156" stop-color="#ffff00"/><stop offset="0.201" stop-color="#ff0800"/><stop offset="0.205" stop-color="#ff0000"/><stop offset="0.237" stop-color="#b70000"/><stop offset="0.270" stop-color="#8f0000"/><stop offset="0.303" stop-color="#b70000"/><stop offset="0.335" stop-color="#ff0000"/><stop offset="0.339" stop-color="#ff0800"/><stop offset="0.380" stop-color="#ffff00"/><stop offset="0.417" stop-color="#80ff80"/><stop offset="0.540" stop-color="#00ffff"/><stop offset="0.698" stop-color="#00a8ff"/><stop offset="1.000" stop-color="#0064ff"/></linearGradient><linearGradient id="d12"><stop offset="0.000" stop-color="#00fdff"/><stop offset="0.006" stop-color="#00ffff"/><stop offset="0.108" stop-color="#80ff80"/><stop offset="0.158" stop-color="#ffff00"/><stop offset="0.203" stop-color="#ff0700"/><stop offset="0.206" stop-color="#ff0000"/><stop offset="0.240" stop-color="#b50000"/><stop offset="0.273" stop-color="#8c0000"/><stop offset="0.306" stop-color="#b50000"/><stop offset="0.340" stop-color="#ff0000"/><stop offset="0.344" stop-color="#ff0700"/><stop offset="0.385" stop-color="#ffff00"/><stop offset="0.422" stop-color="#80ff80"/><stop offset="0.543" stop-color="#00ffff"/><stop offset="0.697" stop-color="#00a8ff"/><stop offset="1.000" stop-color="#0063ff"/></linearGradient><linearGradient id="d13"><stop offset="0.000" stop-color="#00fdff"/><stop offset="0.006" stop-color="#00ffff"/><stop offset="0.109" stop-color="#80ff80"/><stop offset="0.160" stop-color="#ffff00"/><stop offset="0.206" stop-color="#ff0600"/><stop offset="0.208" stop-color="#ff0000"/><stop offset="0.243" stop-color="#b30000"/><stop offset="0.277" stop-color="#8a0000"/><stop offset="0.310" stop-color="#b30000"/><stop offset="0.345" stop-color="#ff0000"/><stop offset="0.348" stop-color="#ff0600"/><stop offset="0.390" stop-color="#ffff00"/><stop offset="0.427" stop-color="#80ff80"/><stop offset="0.547" stop-color="#00ffff"/><stop offset="0.697" stop-color="#00a8ff"/><stop offset="1.000" stop-color="#0062ff"/></linearGradient><linearGradient id="d14"><stop offset="0.000" stop-color="#00fdff"/><stop offset="0.006" stop-color="#00ffff"/><stop offset="0.111" stop-color="#80ff80"/><stop offset="0.162" stop-color="#ffff00"/><stop offset="0.208" stop-color="#ff0400"/><stop offset="0.210" stop-color="#ff0000"/><stop offset="0.246" stop-color="#b10000"/><stop offset="0.280" stop-color="#880000"/><stop offset="0.314" stop-color="#b10000"/><stop offset="0.350" stop-color="#ff0000"/><stop offset="0.352" stop-color="#ff0400"/><stop offset="0.395" stop-color="#ffff00"/><stop offset="0.433" stop-color="#80ff80"/><stop offset="0.550" stop-color="#00ffff"/><stop offset="0.697" stop-color="#00a8ff"/><stop offset="1.000" stop-color="#0061ff"/></linearGradient><linearGradient id="d15"><stop offset="0.000" stop-color="#00fdff"/><stop offset="0.006" stop-color="#00ffff"/><stop offset="0.113" stop-color="#80ff80"/><stop offset="0.164" stop-color="#ffff00"/><stop offset="0.211" stop-color="#ff0400"/><stop offset="0.213" stop-color="#ff0000"/><stop offset="0.249" stop-color="#b00000"/><stop offset="0.284" stop-color="#860000"/><stop offset="0.318" stop-color="#b00000"/><stop offset="0.355" stop-color="#ff0000"/><stop offset="0.356" stop-color="#ff0400"/><stop offset="0.399" stop-color="#ffff00"/><stop offset="0.438" stop-color="#80ff80"/><stop offset="0.554" stop-color="#00ffff"/><stop offset="0.697" stop-color="#00a8ff"/><stop offset="1.000" stop-color="#0060ff"/></linearGradient><linearGradient id="d16"><stop offset="0.000" stop-color="#00fdff"/><stop offset="0.006" stop-color="#00ffff"/><stop offset="0.114" stop-color="#80ff80"/><stop offset="0.166" stop-color="#ffff00"/><stop offset="0.214" stop-color="#ff0300"/><stop offset="0.215" stop-color="#ff0000"/><stop offset="0.253" stop-color="#af0000"/><stop offset="0.287" stop-color="#850000"/><stop offset="0.322" stop-color="#af0000"/><stop offset="0.359" stop-color="#ff0000"/><stop offset="0.361" stop-color="#ff0300"/><stop offset="0.404" stop-color="#ffff00"/><stop offset="0.443" stop-color="#80ff80"/><stop offset="0.557" stop-color="#00ffff"/><stop offset="0.697" stop-color="#00a8ff"/><stop offset="1.000" stop-color="#005fff"/></linearGradient><linearGradient id="d17"><stop offset="0.000" stop-color="#00fdff"/><stop offset="0.006" stop-color="#00ffff"/><stop offset="0.117" stop-color="#80ff80"/><stop offset="0.169" stop-color="#ffff00"/><stop offset="0.217" stop-color="#ff0200"/><stop offset="0.218" stop-color="#ff0000"/><stop offset="0.256" stop-color="#ae0000"/><stop offset="0.291" stop-color="#840000"/><stop offset="0.326" stop-color="#ae0000"/><stop offset="0.364" stop-color="#ff0000"/><stop offset="0.365" stop-color="#ff0200"/><stop offset="0.409" stop-color="#ffff00"/><stop offset="0.448" stop-color="#80ff80"/><stop offset="0.561" stop-color="#00ffff"/><stop offset="0.697" stop-color="#00a8ff"/><stop offset="1.000" stop-color="#005eff"/></linearGradient><linearGradient id="d18"><stop offset="0.000" stop-color="#00fdff"/><stop offset="0.006" stop-color="#00ffff"/><stop offset="0.119" stop-color="#80ff80"/><stop offset="0.172" stop-color="#ffff00"/><stop offset="0.220" stop-color="#ff0200"/><stop offset="0.221" stop-color="#ff0000"/><stop offset="0.259" stop-color="#ae0000"/><stop offset="0.295" stop-color="#830000"/><stop offset="0.330" stop-color="#ae0000"/><stop offset="0.368" stop-color="#ff0000"/><stop offset="0.369" stop-color="#ff0200"/><stop offset="0.413" stop-color="#ffff00"/><stop offset="0.453" stop-color="#80ff80"/><stop offset="0.565" stop-color="#00ffff"/><stop offset="0.697" stop-color="#00a8ff"/><stop offset="1.000" stop-color="#005dff"/></linearGradient><linearGradient id="d19"><stop offset="0.000" stop-color="#00fdff"/><stop offset="0.006" stop-color="#00ffff"/><stop offset="0.121" stop-color="#80ff80"/><stop offset="0.174" stop-color="#ffff00"/><stop offset="0.223" stop-color="#ff0200"/><stop offset="0.224" stop-color="#ff0000"/><stop offset="0.263" stop-color="#ad0000"/><stop offset="0.298" stop-color="#830000"/><stop offset="0.334" stop-color="#ad0000"/><stop offset="0.373" stop-color="#ff0000"/><stop offset="0.373" stop-color="#ff0200"/><stop offset="0.418" stop-color="#ffff00"/><stop offset="0.457" stop-color="#80ff80"/><stop offset="0.568" stop-color="#00ffff"/><stop offset="0.697" stop-color="#00a8ff"/><stop offset="1.000" stop-color="#005cff"/></linearGradient><linearGradient id="d20"><stop offset="0.000" stop-color="#00fdff"/><stop offset="0.006" stop-color="#00ffff"/><stop offset="0.124" stop-color="#80ff80"/><stop offset="0.177" stop-color="#ffff00"/><stop offset="0.226" stop-color="#ff0100"/><stop offset="0.227" stop-color="#ff0000"/><stop offset="0.266" stop-color="#ad0000"/><stop offset="0.302" stop-color="#820000"/><stop offset="0.338" stop-color="#ad0000"/><stop offset="0.377" stop-color="#ff0000"/><stop offset="0.378" stop-color="#ff0100"/><stop offset="0.422" stop-color="#ffff00"/><stop offset="0.462" stop-color="#80ff80"/><stop offset="0.572" stop-color="#00ffff"/><stop offset="0.697" stop-color="#00a8ff"/><stop offset="1.000" stop-color="#005bff"/></linearGradient><linearGradient id="d21"><stop offset="0.000" stop-color="#00fdff"/><stop offset="0.006" stop-color="#00ffff"/><stop offset="0.127" stop-color="#80ff80"/><stop offset="0.180" stop-color="#ffff00"/><stop offset="0.230" stop-color="#ff0100"/><stop offset="0.230" stop-color="#ff0000"/><stop offset="0.270" stop-color="#ac0000"/><stop offset="0.306" stop-color="#820000"/><stop offset="0.342" stop-color="#ac0000"/><stop offset="0.381" stop-color="#ff0000"/><stop offset="0.382" stop-color="#ff0100"/><stop offset="0.427" stop-color="#ffff00"/><stop offset="0.467" stop-color="#80ff80"/><stop offset="0.576" stop-color="#00ffff"/><stop offset="0.697" stop-color="#00a8ff"/><stop offset="1.000" stop-color="#005aff"/></linearGradient><linearGradient id="d22"><stop offset="0.000" stop-color="#00fcff"/><stop offset="0.007" stop-color="#00ffff"/><stop offset="0.130" stop-color="#80ff80"/><stop offset="0.184" stop-color="#ffff00"/><stop offset="0.233" stop-color="#ff0100"/><stop offset="0.234" stop-color="#ff0000"/><stop offset="0.274" stop-color="#ac0000"/><stop offset="0.310" stop-color="#810000"/><stop offset="0.346" stop-color="#ac0000"/><stop offset="0.386" stop-color="#ff0000"/><stop offset="0.386" stop-color="#ff0100"/><stop offset="0.431" stop-color="#ffff00"/><stop offset="0.472" stop-color="#80ff80"/><stop offset="0.580" stop-color="#00ffff"/><stop offset="0.697" stop-color="#00a8ff"/><stop offset="1.000" stop-color="#0059ff"/></linearGradient><linearGradient id="d23"><stop offset="0.000" stop-color="#00fcff"/><stop offset="0.007" stop-color="#00ffff"/><stop offset="0.133" stop-color="#80ff80"/><stop offset="0.187" stop-color="#ffff00"/><stop offset="0.237" stop-color="#ff0100"/><stop offset="0.237" stop-color="#ff0000"/><stop offset="0.277" stop-color="#ac0000"/><stop offset="0.314" stop-color="#810000"/><stop offset="0.350" stop-color="#ac0000"/><stop offset="0.390" stop-color="#ff0000"/><stop offset="0.390" stop-color="#ff0100"/><stop offset="0.436" stop-color="#ffff00"/><stop offset="0.476" stop-color="#80ff80"/><stop offset="0.584" stop-color="#00ffff"/><stop offset="0.697" stop-color="#00a8ff"/><stop offset="1.000" stop-color="#0058ff"/></linearGradient><linearGradient id="d24"><stop offset="0.000" stop-color="#00fcff"/><stop offset="0.008" stop-color="#00ffff"/><stop offset="0.136" stop-color="#80ff80"/><stop offset="0.190" stop-color="#ffff00"/><stop offset="0.240" stop-color="#ff0100"/><stop offset="0.241" stop-color="#ff0000"/><stop offset="0.281" stop-color="#ac0000"/><stop offset="0.318" stop-color="#810000"/><stop offset="0.354" stop-color="#ac0000"/><stop offset="0.394" stop-color="#ff0000"/><stop offset="0.395" stop-color="#ff0100"/><stop offset="0.440" stop-color="#ffff00"/><stop offset="0.481" stop-color="#80ff80"/><stop offset="0.588" stop-color="#00ffff"/><stop offset="0.698" stop-color="#00a8ff"/><stop offset="1.000" stop-color="#0057ff"/></linearGradient><linearGradient id="d25"><stop offset="0.000" stop-color="#00faff"/><stop offset="0.012" stop-color="#00ffff"/><stop offset="0.139" stop-color="#80ff80"/><stop offset="0.194" stop-color="#ffff00"/><stop offset="0.244" stop-color="#ff0000"/><stop offset="0.244" stop-color="#ff0000"/><stop offset="0.285" stop-color="#ac0000"/><stop offset="0.322" stop-color="#800000"/><stop offset="0.358" stop-color="#ac0000"/><stop offset="0.399" stop-color="#ff0000"/><stop offset="0.399" stop-color="#ff0000"/><stop offset="0.445" stop-color="#ffff00"/><stop offset="0.486" stop-color="#80ff80"/><stop offset="0.592" stop-color="#00ffff"/><stop offset="0.699" stop-color="#00a8ff"/><stop offset="1.000" stop-color="#0056ff"/></linearGradient><linearGradient id="d26"><stop offset="0.000" stop-color="#00f9ff"/><stop offset="0.016" stop-color="#00ffff"/><stop offset="0.143" stop-color="#80ff80"/><stop offset="0.197" stop-color="#ffff00"/><stop offset="0.248" stop-color="#ff0000"/><stop offset="0.248" stop-color="#ff0000"/><stop offset="0.289" stop-color="#ab0000"/><stop offset="0.326" stop-color="#800000"/><stop offset="0.362" stop-color="#ab0000"/><stop offset="0.403" stop-color="#ff0000"/><stop offset="0.403" stop-color="#ff0000"/><stop offset="0.449" stop-color="#ffff00"/><stop offset="0.490" stop-color="#80ff80"/><stop offset="0.596" stop-color="#00ffff"/><stop offset="0.701" stop-color="#00a8ff"/><stop offset="1.000" stop-color="#0056ff"/></linearGradient><linearGradient id="d27"><stop offset="0.000" stop-color="#00f7ff"/><stop offset="0.020" stop-color="#00ffff"/><stop offset="0.146" stop-color="#80ff80"/><stop offset="0.201" stop-color="#ffff00"/><stop offset="0.252" stop-color="#ff0000"/><stop offset="0.252" stop-color="#ff0000"/><stop offset="0.293" stop-color="#ab0000"/><stop offset="0.330" stop-color="#800000"/><stop offset="0.366" stop-color="#ab0000"/><stop offset="0.408" stop-color="#ff0000"/><stop offset="0.408" stop-color="#ff0000"/><stop offset="0.454" stop-color="#ffff00"/><stop offset="0.495" stop-color="#80ff80"/><stop offset="0.600" stop-color="#00ffff"/><stop offset="0.704" stop-color="#00a8ff"/><stop offset="1.000" stop-color="#0055ff"/></linearGradient><linearGradient id="d28"><stop offset="0.000" stop-color="#00f5ff"/><stop offset="0.024" stop-color="#00ffff"/><stop offset="0.150" stop-color="#80ff80"/><stop offset="0.205" stop-color="#ffff00"/><stop offset="0.256" stop-color="#ff0000"/><stop offset="0.256" stop-color="#ff0000"/><stop offset="0.297" stop-color="#ab0000"/><stop offset="0.334" stop-color="#800000"/><stop offset="0.371" stop-color="#ab0000"/><stop offset="0.412" stop-color="#ff0000"/><stop offset="0.412" stop-color="#ff0000"/><stop offset="0.458" stop-color="#ffff00"/><stop offset="0.500" stop-color="#80ff80"/><stop offset="0.604" stop-color="#00ffff"/><stop offset="0.706" stop-color="#00a8ff"/><stop offset="1.000" stop-color="#0055ff"/></linearGradient><linearGradient id="d29"><stop offset="0.000" stop-color="#00f3ff"/><stop offset="0.028" stop-color="#00ffff"/><stop offset="0.153" stop-color="#80ff80"/><stop offset="0.209" stop-color="#ffff00"/><stop offset="0.260" stop-color="#ff0000"/><stop offset="0.260" stop-color="#ff0000"/><stop offset="0.301" stop-color="#ab0000"/><stop offset="0.338" stop-color="#800000"/><stop offset="0.375" stop-color="#ab0000"/><stop offset="0.416" stop-color="#ff0000"/><stop offset="0.416" stop-color="#ff0000"/><stop offset="0.463" stop-color="#ffff00"/><stop offset="0.504" stop-color="#80ff80"/><stop offset="0.608" stop-color="#00ffff"/><stop offset="0.708" stop-color="#00a8ff"/><stop offset="1.000" stop-color="#0055ff"/></linearGradient><linearGradient id="d30"><stop offset="0.000" stop-color="#00f2ff"/><stop offset="0.032" stop-color="#00ffff"/><stop offset="0.158" stop-color="#80ff80"/><stop offset="0.213" stop-color="#ffff00"/><stop offset="0.264" stop-color="#ff0000"/><stop offset="0.264" stop-color="#ff0000"/><stop offset="0.305" stop-color="#ab0000"/><stop offset="0.342" stop-color="#800000"/><stop offset="0.379" stop-color="#ab0000"/><stop offset="0.420" stop-color="#ff0000"/><stop offset="0.421" stop-color="#ff0000"/><stop offset="0.467" stop-color="#ffff00"/><stop offset="0.508" stop-color="#80ff80"/><stop offset="0.612" stop-color="#00ffff"/><stop offset="0.710" stop-color="#00a8ff"/><stop offset="1.000" stop-color="#0054ff"/></linearGradient><linearGradient id="d31"><stop offset="0.000" stop-color="#00f0ff"/><stop offset="0.037" stop-color="#00ffff"/><stop offset="0.163" stop-color="#80ff80"/><stop offset="0.218" stop-color="#ffff00"/><stop offset="0.269" stop-color="#ff0000"/><stop offset="0.269" stop-color="#ff0000"/><stop offset="0.310" stop-color="#ab0000"/><stop offset="0.347" stop-color="#800000"/><stop offset="0.383" stop-color="#ab0000"/><stop offset="0.425" stop-color="#ff0000"/><stop offset="0.425" stop-color="#ff0000"/><stop offset="0.470" stop-color="#ffff00"/><stop offset="0.512" stop-color="#80ff80"/><stop offset="0.617" stop-color="#00ffff"/><stop offset="0.712" stop-color="#00a8ff"/><stop offset="1.000" stop-color="#0054ff"/></linearGradient><linearGradient id="d32"><stop offset="0.000" stop-color="#00eeff"/><stop offset="0.041" stop-color="#00ffff"/><stop offset="0.168" stop-color="#80ff80"/><stop offset="0.223" stop-color="#ffff00"/><stop offset="0.273" stop-color="#ff0000"/><stop offset="0.273" stop-color="#ff0000"/><stop offset="0.314" stop-color="#ab0000"/><stop offset="0.351" stop-color="#800000"/><stop offset="0.388" stop-color="#ab0000"/><stop offset="0.429" stop-color="#ff0000"/><stop offset="0.429" stop-color="#ff0000"/><stop offset="0.474" stop-color="#ffff00"/><stop offset="0.516" stop-color="#80ff80"/><stop offset="0.621" stop-color="#00ffff"/><stop offset="0.715" stop-color="#00a8ff"/><stop offset="1.000" stop-color="#0053ff"/></linearGradient><linearGradient id="d33"><stop offset="0.000" stop-color="#00ecff"/><stop offset="0.045" stop-color="#00ffff"/><stop offset="0.173" stop-color="#80ff80"/><stop offset="0.228" stop-color="#ffff00"/><stop offset="0.278" stop-color="#ff0000"/><stop offset="0.278" stop-color="#ff0000"/><stop offset="0.319" stop-color="#ab0000"/><stop offset="0.355" stop-color="#800000"/><stop offset="0.392" stop-color="#ab0000"/><stop offset="0.433" stop-color="#ff0000"/><stop offset="0.433" stop-color="#ff0000"/><stop offset="0.478" stop-color="#ffff00"/><stop offset="0.519" stop-color="#80ff80"/><stop offset="0.625" stop-color="#00ffff"/><stop offset="0.717" stop-color="#00a8ff"/><stop offset="1.000" stop-color="#0053ff"/></linearGradient><linearGradient id="d34"><stop offset="0.000" stop-color="#00eaff"/><stop offset="0.050" stop-color="#00ffff"/><stop offset="0.178" stop-color="#80ff80"/><stop offset="0.233" stop-color="#ffff00"/><stop offset="0.283" stop-color="#ff0000"/><stop offset="0.283" stop-color="#ff0000"/><stop offset="0.323" stop-color="#ab0000"/><stop offset="0.360" stop-color="#800000"/><stop offset="0.396" stop-color="#ab0000"/><stop offset="0.437" stop-color="#ff0000"/><stop offset="0.437" stop-color="#ff0000"/><stop offset="0.482" stop-color="#ffff00"/><stop offset="0.523" stop-color="#80ff80"/><stop offset="0.630" stop-color="#00ffff"/><stop offset="0.719" stop-color="#00a8ff"/><stop offset="1.000" stop-color="#0053ff"/></linearGradient><linearGradient id="d35"><stop offset="0.000" stop-color="#00e8ff"/><stop offset="0.054" stop-color="#00ffff"/><stop offset="0.183" stop-color="#80ff80"/><stop offset="0.238" stop-color="#ffff00"/><stop offset="0.287" stop-color="#ff0000"/><stop offset="0.287" stop-color="#ff0000"/><stop offset="0.328" stop-color="#ab0000"/><stop offset="0.364" stop-color="#800000"/><stop offset="0.401" stop-color="#ab0000"/><stop offset="0.441" stop-color="#ff0000"/><stop offset="0.441" stop-color="#ff0000"/><stop offset="0.486" stop-color="#ffff00"/><stop offset="0.527" stop-color="#80ff80"/><stop offset="0.634" stop-color="#00ffff"/><stop offset="0.722" stop-color="#00a8ff"/><stop offset="1.000" stop-color="#0052ff"/></linearGradient><linearGradient id="d36"><stop offset="0.000" stop-color="#00e6ff"/><stop offset="0.059" stop-color="#00ffff"/><stop offset="0.189" stop-color="#80ff80"/><stop offset="0.243" stop-color="#ffff00"/><stop offset="0.292" stop-color="#ff0000"/><stop offset="0.292" stop-color="#ff0000"/><stop offset="0.333" stop-color="#ab0000"/><stop offset="0.369" stop-color="#800000"/><stop offset="0.405" stop-color="#ab0000"/><stop offset="0.445" stop-color="#ff0000"/><stop offset="0.445" stop-color="#ff0000"/><stop offset="0.491" stop-color="#ffff00"/><stop offset="0.531" stop-color="#80ff80"/><stop offset="0.639" stop-color="#00ffff"/><stop offset="0.724" stop-color="#00a8ff"/><stop offset="1.000" stop-color="#0052ff"/></linearGradient><linearGradient id="d37"><stop offset="0.000" stop-color="#00e5ff"/><stop offset="0.063" stop-color="#00ffff"/><stop offset="0.194" stop-color="#80ff80"/><stop offset="0.248" stop-color="#ffff00"/><stop offset="0.297" stop-color="#ff0000"/><stop offset="0.297" stop-color="#ff0000"/><stop offset="0.338" stop-color="#ab0000"/><stop offset="0.373" stop-color="#800000"/><stop offset="0.409" stop-color="#ab0000"/><stop offset="0.450" stop-color="#ff0000"/><stop offset="0.450" stop-color="#ff0000"/><stop offset="0.495" stop-color="#ffff00"/><stop offset="0.535" stop-color="#80ff80"/><stop offset="0.643" stop-color="#00ffff"/><stop offset="0.727" stop-color="#00a8ff"/><stop offset="1.000" stop-color="#0051ff"/></linearGradient><linearGradient id="d38"><stop offset="0.000" stop-color="#00e3ff"/><stop offset="0.068" stop-color="#00ffff"/><stop offset="0.199" stop-color="#80ff80"/><stop offset="0.253" stop-color="#ffff00"/><stop offset="0.302" stop-color="#ff0000"/><stop offset="0.302" stop-color="#ff0000"/><stop offset="0.342" stop-color="#ab0000"/><stop offset="0.378" stop-color="#800000"/><stop offset="0.414" stop-color="#ab0000"/><stop offset="0.454" stop-color="#ff0000"/><stop offset="0.454" stop-color="#ff0000"/><stop offset="0.499" stop-color="#ffff00"/><stop offset="0.539" stop-color="#80ff80"/><stop offset="0.648" stop-color="#00ffff"/><stop offset="0.730" stop-color="#00a8ff"/><stop offset="1.000" stop-color="#0051ff"/></linearGradient><linearGradient id="d39"><stop offset="0.000" stop-color="#00e1ff"/><stop offset="0.073" stop-color="#00ffff"/><stop offset="0.205" stop-color="#80ff80"/><stop offset="0.258" stop-color="#ffff00"/><stop offset="0.307" stop-color="#ff0000"/><stop offset="0.307" stop-color="#ff0000"/><stop offset="0.347" stop-color="#ab0000"/><stop offset="0.383" stop-color="#800000"/><stop offset="0.418" stop-color="#ab0000"/><stop offset="0.458" stop-color="#ff0000"/><stop offset="0.458" stop-color="#ff0000"/><stop offset="0.503" stop-color="#ffff00"/><stop offset="0.543" stop-color="#80ff80"/><stop offset="0.653" stop-color="#00ffff"/><stop offset="0.732" stop-color="#00a8ff"/><stop offset="1.000" stop-color="#0050ff"/></linearGradient><linearGradient id="d40"><stop offset="0.000" stop-color="#00dfff"/><stop offset="0.078" stop-color="#00ffff"/><stop offset="0.210" stop-color="#80ff80"/><stop offset="0.263" stop-color="#ffff00"/><stop offset="0.312" stop-color="#ff0000"/><stop offset="0.312" stop-color="#ff0000"/><stop offset="0.352" stop-color="#ab0000"/><stop offset="0.388" stop-color="#800000"/><stop offset="0.423" stop-color="#ab0000"/><stop offset="0.463" stop-color="#ff0000"/><stop offset="0.463" stop-color="#ff0000"/><stop offset="0.507" stop-color="#ffff00"/><stop offset="0.547" stop-color="#80ff80"/><stop offset="0.658" stop-color="#00ffff"/><stop offset="0.735" stop-color="#00a8ff"/><stop offset="1.000" stop-color="#0050ff"/></linearGradient><linearGradient id="d41"><stop offset="0.000" stop-color="#00ddff"/><stop offset="0.082" stop-color="#00ffff"/><stop offset="0.216" stop-color="#80ff80"/><stop offset="0.269" stop-color="#ffff00"/><stop offset="0.317" stop-color="#ff0000"/><stop offset="0.317" stop-color="#ff0000"/><stop offset="0.357" stop-color="#ab0000"/><stop offset="0.392" stop-color="#800000"/><stop offset="0.428" stop-color="#ab0000"/><stop offset="0.467" stop-color="#ff0000"/><stop offset="0.467" stop-color="#ff0000"/><stop offset="0.511" stop-color="#ffff00"/><stop offset="0.551" stop-color="#80ff80"/><stop offset="0.662" stop-color="#00ffff"/><stop offset="0.738" stop-color="#00a8ff"/><stop offset="1.000" stop-color="#0050ff"/></linearGradient><linearGradient id="d42"><stop offset="0.000" stop-color="#00dbff"/><stop offset="0.087" stop-color="#00ffff"/><stop offset="0.222" stop-color="#80ff80"/><stop offset="0.274" stop-color="#ffff00"/><stop offset="0.323" stop-color="#ff0000"/><stop offset="0.323" stop-color="#ff0000"/><stop offset="0.362" stop-color="#ab0000"/><stop offset="0.397" stop-color="#800000"/><stop offset="0.432" stop-color="#ab0000"/><stop offset="0.472" stop-color="#ff0000"/><stop offset="0.472" stop-color="#ff0000"/><stop offset="0.516" stop-color="#ffff00"/><stop offset="0.555" stop-color="#80ff80"/><stop offset="0.667" stop-color="#00ffff"/><stop offset="0.740" stop-color="#00a8ff"/><stop offset="1.000" stop-color="#004fff"/></linearGradient><linearGradient id="d43"><stop offset="0.000" stop-color="#00d9ff"/><stop offset="0.092" stop-color="#00ffff"/><stop offset="0.227" stop-color="#80ff80"/><stop offset="0.280" stop-color="#ffff00"/><stop offset="0.328" stop-color="#ff0000"/><stop offset="0.328" stop-color="#ff0000"/><stop offset="0.367" stop-color="#ab0000"/><stop offset="0.402" stop-color="#800000"/><stop offset="0.437" stop-color="#ab0000"/><stop offset="0.476" stop-color="#ff0000"/><stop offset="0.476" stop-color="#ff0000"/><stop offset="0.520" stop-color="#ffff00"/><stop offset="0.559" stop-color="#80ff80"/><stop offset="0.672" stop-color="#00ffff"/><stop offset="0.743" stop-color="#00a8ff"/><stop offset="1.000" stop-color="#004fff"/></linearGradient><linearGradient id="d44"><stop offset="0.000" stop-color="#00d6ff"/><stop offset="0.097" stop-color="#00ffff"/><stop offset="0.233" stop-color="#80ff80"/><stop offset="0.285" stop-color="#ffff00"/><stop offset="0.333" stop-color="#ff0000"/><stop offset="0.333" stop-color="#ff0000"/><stop offset="0.372" stop-color="#ab0000"/><stop offset="0.407" stop-color="#800000"/><stop offset="0.442" stop-color="#ab0000"/><stop offset="0.481" stop-color="#ff0000"/><stop offset="0.481" stop-color="#ff0000"/><stop offset="0.524" stop-color="#ffff00"/><stop offset="0.564" stop-color="#80ff80"/><stop offset="0.677" stop-color="#00ffff"/><stop offset="0.746" stop-color="#00a8ff"/><stop offset="1.000" stop-color="#004eff"/></linearGradient><linearGradient id="d45"><stop offset="0.000" stop-color="#00d4ff"/><stop offset="0.102" stop-color="#00ffff"/><stop offset="0.239" stop-color="#80ff80"/><stop offset="0.291" stop-color="#ffff00"/><stop offset="0.339" stop-color="#ff0000"/><stop offset="0.339" stop-color="#ff0000"/><stop offset="0.377" stop-color="#ab0000"/><stop offset="0.412" stop-color="#800000"/><stop offset="0.447" stop-color="#ab0000"/><stop offset="0.486" stop-color="#ff0000"/><stop offset="0.486" stop-color="#ff0000"/><stop offset="0.529" stop-color="#ffff00"/><stop offset="0.568" stop-color="#80ff80"/><stop offset="0.682" stop-color="#00ffff"/><stop offset="0.749" stop-color="#00a8ff"/><stop offset="1.000" stop-color="#004eff"/></linearGradient><linearGradient id="d46"><stop offset="0.000" stop-color="#00d2ff"/><stop offset="0.107" stop-color="#00ffff"/><stop offset="0.245" stop-color="#80ff80"/><stop offset="0.297" stop-color="#ffff00"/><stop offset="0.344" stop-color="#ff0000"/><stop offset="0.344" stop-color="#ff0000"/><stop offset="0.383" stop-color="#ab0000"/><stop offset="0.417" stop-color="#800000"/><stop offset="0.452" stop-color="#ab0000"/><stop offset="0.490" stop-color="#ff0000"/><stop offset="0.490" stop-color="#ff0000"/><stop offset="0.533" stop-color="#ffff00"/><stop offset="0.572" stop-color="#80ff80"/><stop offset="0.687" stop-color="#00ffff"/><stop offset="0.752" stop-color="#00a8ff"/><stop offset="1.000" stop-color="#004eff"/></linearGradient><linearGradient id="d47"><stop offset="0.000" stop-color="#00d1ff"/><stop offset="0.002" stop-color="#00d1ff"/><stop offset="0.112" stop-color="#00ffff"/><stop offset="0.251" stop-color="#80ff80"/><stop offset="0.302" stop-color="#ffff00"/><stop offset="0.349" stop-color="#ff0000"/><stop offset="0.349" stop-color="#ff0000"/><stop offset="0.388" stop-color="#ab0000"/><stop offset="0.422" stop-color="#800000"/><stop offset="0.457" stop-color="#ab0000"/><stop offset="0.495" stop-color="#ff0000"/><stop offset="0.495" stop-color="#ff0000"/><stop offset="0.538" stop-color="#ffff00"/><stop offset="0.576" stop-color="#80ff80"/><stop offset="0.692" stop-color="#00ffff"/><stop offset="0.755" stop-color="#00a8ff"/><stop offset="1.000" stop-color="#004dff"/></linearGradient><linearGradient id="d48"><stop offset="0.000" stop-color="#00d0ff"/><stop offset="0.007" stop-color="#00d1ff"/><stop offset="0.117" stop-color="#00ffff"/><stop offset="0.257" stop-color="#80ff80"/><stop offset="0.308" stop-color="#ffff00"/><stop offset="0.355" stop-color="#ff0000"/><stop offset="0.355" stop-color="#ff0000"/><stop offset="0.393" stop-color="#ab0000"/><stop offset="0.427" stop-color="#800000"/><stop offset="0.461" stop-color="#ab0000"/><stop offset="0.500" stop-color="#ff0000"/><stop offset="0.500" stop-color="#ff0000"/><stop offset="0.542" stop-color="#ffff00"/><stop offset="0.581" stop-color="#80ff80"/><stop offset="0.697" stop-color="#00ffff"/><stop offset="0.758" stop-color="#00a8ff"/><stop offset="1.000" stop-color="#004dff"/></linearGradient><linearGradient id="cb4" x1="0" y1="0" x2="0" y2="1"><stop offset="0" stop-color="#800000"/><stop offset="0.125" stop-color="#ff0000"/><stop offset="0.375" stop-color="#ffff00"/><stop offset="0.5" stop-color="#80ff80"/><stop offset="0.625" stop-color="#00ffff"/><stop offset="0.875" stop-color="#0000ff"/><stop offset="1" stop-color="#000080"/></linearGradient><linearGradient id="gSi" x1="0" y1="0" x2="0" y2="1"><stop offset="0" stop-color="#1a4382"/><stop offset="1" stop-color="#16366a"/></linearGradient><linearGradient id="gFront" x1="0" y1="0" x2="1" y2="0"><stop offset="0" stop-color="#92cabb"/><stop offset="0.3" stop-color="#7dbfab"/><stop offset="0.6" stop-color="#72bba0"/><stop offset="1" stop-color="#6cba97"/></linearGradient><linearGradient id="gFrontV" x1="0" y1="0" x2="0" y2="1"><stop offset="0" stop-color="#ffffff" stop-opacity="0.1"/><stop offset="0.4" stop-color="#ffffff" stop-opacity="0"/><stop offset="0.82" stop-color="#8aa6cc" stop-opacity="0"/><stop offset="1" stop-color="#8aa6cc" stop-opacity="0.75"/></linearGradient><linearGradient id="gTop" x1="0" y1="0" x2="0" y2="1"><stop offset="0" stop-color="#b9efd8"/><stop offset="1" stop-color="#aeeacc"/></linearGradient><radialGradient id="gGlow"><stop offset="0" stop-color="#7fd0ff" stop-opacity="0.9"/><stop offset="1" stop-color="#7fd0ff" stop-opacity="0"/></radialGradient><radialGradient id="gGlow3"><stop offset="0" stop-color="#6cc4e8" stop-opacity="0.5"/><stop offset="0.6" stop-color="#6cc4e0" stop-opacity="0.25"/><stop offset="1" stop-color="#6cc4e0" stop-opacity="0"/></radialGradient><radialGradient id="gGlow4"><stop offset="0" stop-color="#8a9cf0" stop-opacity="0.7"/><stop offset="1" stop-color="#8a9cf0" stop-opacity="0"/></radialGradient><radialGradient id="gGlow2"><stop offset="0" stop-color="#3060ff" stop-opacity="0.9"/><stop offset="1" stop-color="#3060ff" stop-opacity="0"/></radialGradient><linearGradient id="gBlue" x1="0" y1="0" x2="1" y2="0"><stop offset="0" stop-color="#5a86e2"/><stop offset="0.5" stop-color="#6792ee"/><stop offset="1" stop-color="#749fee"/></linearGradient><radialGradient id="gE" cx="0.35" cy="0.35"><stop offset="0" stop-color="#7fe8e8"/><stop offset="1" stop-color="#109aa8"/></radialGradient><radialGradient id="gH" cx="0.4" cy="0.4"><stop offset="0" stop-color="#e884c0"/><stop offset="0.6" stop-color="#b04aa8"/><stop offset="1" stop-color="#6a3aa8"/></radialGradient><marker id="ah2" viewBox="0 0 10 10" refX="8" refY="5" markerWidth="2.8" markerHeight="2.8" orient="auto"><path d="M0 0L10 5L0 10z" fill="#111"/></marker><marker id="ah" viewBox="0 0 10 10" refX="8" refY="5" markerWidth="3.6" markerHeight="3.6" orient="auto-start-reverse"><path d="M0 0L10 5L0 10z" fill="#111"/></marker></defs><rect width="550" height="301" fill="#fff"/><rect x="2.9" y="3.4" width="544.1" height="294.3" fill="#fff" stroke="#444" stroke-width="1.4"/>
<rect x="8.1" y="11.5" width="305.4" height="279" fill="none" stroke="#262626" stroke-width="1.3" stroke-dasharray="3.9 2.1"/>
<path d="M315 73.5V212.8" fill="none" stroke="#262626" stroke-width="1.3" stroke-dasharray="3.9 2.1" stroke-dashoffset="1.4"/>
<path d="M315 73.5H541.9V212.8H315" fill="none" stroke="#262626" stroke-width="1.3" stroke-dasharray="3.9 2.1" stroke-dashoffset="2.5"/>
<rect x="27.3" y="37.7" width="130.7" height="118.7" fill="none" stroke="#262626" stroke-width="1.3" stroke-dasharray="3.9 2.1"/>
<path d="M92.7 37.7V156.4M27.3 80.3H158M27.3 91.5H158M27.3 144.6H158" fill="none" stroke="#262626" stroke-width="1.3" stroke-dasharray="3.9 2.1"/>
<text x="10" y="27.8" font-family="Liberation Sans, sans-serif" font-size="13" font-weight="bold" fill="#111">(a)</text>
<text x="318.2" y="90.4" font-family="Liberation Sans, sans-serif" font-size="13" font-weight="bold" fill="#111">(b)</text>
<text x="16" y="47.3" font-family="Liberation Sans, sans-serif" font-size="12" fill="#111" textLength="9.2" lengthAdjust="spacingAndGlyphs">(i)</text>
<text x="160" y="47.9" font-family="Liberation Sans, sans-serif" font-size="12" fill="#111" textLength="11.6" lengthAdjust="spacingAndGlyphs">(ii)</text>
<text x="12.9" y="166.6" font-family="Liberation Sans, sans-serif" font-size="12" fill="#111" textLength="15.3" lengthAdjust="spacingAndGlyphs">(iii)</text>
<text x="157.8" y="166.4" font-family="Liberation Sans, sans-serif" font-size="12.3" fill="#111" textLength="16.2" lengthAdjust="spacingAndGlyphs">(iv)</text>
<rect x="36.1" y="45.8" width="50" height="8.8" fill="#2f93d6"/>
<rect x="36.1" y="54.5" width="50" height="9.6" fill="#b4ea52"/>
<rect x="36.1" y="64" width="50" height="9.2" fill="#2f93d6"/>
<text x="62.3" y="51.8" font-family="Liberation Sans, sans-serif" font-size="6.8" font-weight="bold" fill="#1a1a1a" stroke="#1a1a1a" stroke-width="0.15" text-anchor="middle">p-GaN</text>
<text x="61.9" y="61.7" font-family="Liberation Sans, sans-serif" font-size="6.6" font-weight="bold" fill="#1a1a1a" stroke="#1a1a1a" stroke-width="0.15" text-anchor="middle">MQW</text>
<text x="62.9" y="71.3" font-family="Liberation Sans, sans-serif" font-size="6.8" font-weight="bold" fill="#1a1a1a" stroke="#1a1a1a" stroke-width="0.15" text-anchor="middle">n-GaN</text>
<circle cx="32.5" cy="43.9" r="3.55" fill="#fff" stroke="#222" stroke-width="1.05"/>
<text x="32.5" y="46.15" font-family="Liberation Sans, sans-serif" font-size="6.3" font-weight="bold" fill="#111" text-anchor="middle">1</text>
<text x="60.6" y="88.7" font-family="Liberation Sans, sans-serif" font-size="6.85" font-weight="bold" fill="#1a1a1a" stroke="#1a1a1a" stroke-width="0.15" text-anchor="middle">Conventional LED</text>
<rect x="101.9" y="43.8" width="49.3" height="2.2" fill="#c4c4c4"/>
<rect x="101.9" y="47.8" width="49.3" height="2.2" fill="#c4c4c4"/>
<rect x="101.9" y="52" width="49.3" height="12.3" fill="#b4ea52"/>
<rect x="101.9" y="64.6" width="49.3" height="2.2" fill="#c4c4c4"/>
<rect x="101.9" y="69.3" width="49.3" height="2.2" fill="#c4c4c4"/>
<rect x="101.9" y="74.1" width="49.3" height="2.2" fill="#c4c4c4"/>
<text x="124.6" y="48.8" font-family="Liberation Sans, sans-serif" font-size="7" font-weight="bold" fill="#1a1a1a" stroke="#1a1a1a" stroke-width="0.15" text-anchor="middle">DBR</text>
<text x="124" y="60.5" font-family="Liberation Sans, sans-serif" font-size="7" font-weight="bold" fill="#1a1a1a" stroke="#1a1a1a" stroke-width="0.15" text-anchor="middle">LED</text>
<text x="125.9" y="72.6" font-family="Liberation Sans, sans-serif" font-size="7" font-weight="bold" fill="#1a1a1a" stroke="#1a1a1a" stroke-width="0.15" text-anchor="middle">DBR</text>
<circle cx="96.8" cy="44" r="3.55" fill="#fff" stroke="#222" stroke-width="1.05"/>
<text x="96.8" y="46.25" font-family="Liberation Sans, sans-serif" font-size="6.3" font-weight="bold" fill="#111" text-anchor="middle">2</text>
<text x="124" y="88.7" font-family="Liberation Sans, sans-serif" font-size="6.85" font-weight="bold" fill="#1a1a1a" stroke="#1a1a1a" stroke-width="0.15" text-anchor="middle">RC-LED</text>
<rect x="35.3" y="103.6" width="49.8" height="2.2" fill="#c4c4c4"/>
<rect x="35.3" y="108" width="49.8" height="12.4" fill="#b4ea52"/>
<rect x="35.3" y="120.3" width="49.8" height="7" fill="#b79ae0"/>
<rect x="35.3" y="127.3" width="6" height="8.1" fill="#c4c4c4"/>
<rect x="46" y="127.3" width="6" height="8.1" fill="#c4c4c4"/>
<rect x="67.6" y="127.3" width="6" height="8.1" fill="#c4c4c4"/>
<rect x="78.9" y="127.3" width="6" height="8.1" fill="#c4c4c4"/>
<text x="61.7" y="105.3" font-family="Liberation Sans, sans-serif" font-size="6.8" font-weight="bold" fill="#1a1a1a" stroke="#1a1a1a" stroke-width="0.15" text-anchor="middle">DBR</text>
<text x="61.4" y="116.4" font-family="Liberation Sans, sans-serif" font-size="6.8" font-weight="bold" fill="#1a1a1a" stroke="#1a1a1a" stroke-width="0.15" text-anchor="middle">LED</text>
<text x="63.1" y="125.2" font-family="Liberation Sans, sans-serif" font-size="6.6" font-weight="bold" fill="#1a1a1a" stroke="#1a1a1a" stroke-width="0.15" text-anchor="middle">SiO<tspan font-size="4.4" dy="1.4">2</tspan></text>
<text x="60.9" y="135" font-family="Liberation Sans, sans-serif" font-size="6.8" font-weight="bold" fill="#1a1a1a" stroke="#1a1a1a" stroke-width="0.15" text-anchor="middle">Al</text>
<circle cx="31.4" cy="98" r="3.55" fill="#fff" stroke="#222" stroke-width="1.05"/>
<text x="31.4" y="100.25" font-family="Liberation Sans, sans-serif" font-size="6.3" font-weight="bold" fill="#111" text-anchor="middle">3</text>
<text x="62" y="152.9" font-family="Liberation Sans, sans-serif" font-size="6.85" font-weight="bold" fill="#1a1a1a" stroke="#1a1a1a" stroke-width="0.15" text-anchor="middle">RC-LPLED</text>
<rect x="103.20" y="96.3" width="3.2" height="8.8" fill="#f9b4cc"/>
<rect x="110.42" y="96.3" width="3.2" height="8.8" fill="#f9b4cc"/>
<rect x="117.64" y="96.3" width="3.2" height="8.8" fill="#f9b4cc"/>
<rect x="139.30" y="96.3" width="3.2" height="8.8" fill="#f9b4cc"/>
<rect x="146.52" y="96.3" width="3.2" height="8.8" fill="#f9b4cc"/>
<rect x="102" y="108.4" width="49" height="2.3" fill="#c4c4c4"/>
<rect x="102" y="113" width="49" height="12.8" fill="#b4ea52"/>
<rect x="102" y="125.7" width="49" height="6.4" fill="#b79ae0"/>
<rect x="102.4" y="132" width="5.3" height="8.4" fill="#c4c4c4"/>
<rect x="113.2" y="132" width="5.3" height="8.4" fill="#c4c4c4"/>
<rect x="134.8" y="132" width="5.3" height="8.4" fill="#c4c4c4"/>
<rect x="145.6" y="132" width="5.3" height="8.4" fill="#c4c4c4"/>
<text x="126.5" y="102.7" font-family="Liberation Sans, sans-serif" font-size="6.6" font-weight="bold" fill="#1a1a1a" stroke="#1a1a1a" stroke-width="0.15" text-anchor="middle">TiO<tspan font-size="4.4" dy="1.4">2</tspan></text>
<text x="126.8" y="111" font-family="Liberation Sans, sans-serif" font-size="6.8" font-weight="bold" fill="#1a1a1a" stroke="#1a1a1a" stroke-width="0.15" text-anchor="middle">DBR</text>
<text x="126.9" y="121.7" font-family="Liberation Sans, sans-serif" font-size="6.8" font-weight="bold" fill="#1a1a1a" stroke="#1a1a1a" stroke-width="0.15" text-anchor="middle">LED</text>
<text x="127.2" y="130.3" font-family="Liberation Sans, sans-serif" font-size="6.6" font-weight="bold" fill="#1a1a1a" stroke="#1a1a1a" stroke-width="0.15" text-anchor="middle">SiO<tspan font-size="4.4" dy="1.4">2</tspan></text>
<text x="127.1" y="139" font-family="Liberation Sans, sans-serif" font-size="6.8" font-weight="bold" fill="#1a1a1a" stroke="#1a1a1a" stroke-width="0.15" text-anchor="middle">Al</text>
<circle cx="96.8" cy="98" r="3.55" fill="#fff" stroke="#222" stroke-width="1.05"/>
<text x="96.8" y="100.25" font-family="Liberation Sans, sans-serif" font-size="6.3" font-weight="bold" fill="#111" text-anchor="middle">4</text>
<text x="126.4" y="152.9" font-family="Liberation Sans, sans-serif" font-size="6.85" font-weight="bold" fill="#1a1a1a" stroke="#1a1a1a" stroke-width="0.15" text-anchor="middle">RC-CPLED</text>
<rect x="188.5" y="39.50" width="94.5" height="2.99" fill="url(#b0)"/>
<rect x="188.5" y="41.49" width="94.5" height="2.99" fill="url(#b1)"/>
<rect x="188.5" y="43.48" width="94.5" height="2.99" fill="url(#b2)"/>
<rect x="188.5" y="45.47" width="94.5" height="2.99" fill="url(#b3)"/>
<rect x="188.5" y="47.46" width="94.5" height="2.99" fill="url(#b4)"/>
<rect x="188.5" y="49.45" width="94.5" height="2.99" fill="url(#b5)"/>
<rect x="188.5" y="51.44" width="94.5" height="2.99" fill="url(#b6)"/>
<rect x="188.5" y="53.43" width="94.5" height="2.99" fill="url(#b7)"/>
<rect x="188.5" y="55.42" width="94.5" height="2.99" fill="url(#b8)"/>
<rect x="188.5" y="57.41" width="94.5" height="2.99" fill="url(#b9)"/>
<rect x="188.5" y="59.40" width="94.5" height="2.99" fill="url(#b10)"/>
<rect x="188.5" y="61.39" width="94.5" height="2.99" fill="url(#b11)"/>
<rect x="188.5" y="63.38" width="94.5" height="2.99" fill="url(#b12)"/>
<rect x="188.5" y="65.37" width="94.5" height="2.99" fill="url(#b13)"/>
<rect x="188.5" y="67.36" width="94.5" height="2.99" fill="url(#b14)"/>
<rect x="188.5" y="69.35" width="94.5" height="2.99" fill="url(#b15)"/>
<rect x="188.5" y="71.34" width="94.5" height="2.99" fill="url(#b16)"/>
<rect x="188.5" y="73.33" width="94.5" height="2.99" fill="url(#b17)"/>
<rect x="188.5" y="75.32" width="94.5" height="2.99" fill="url(#b18)"/>
<rect x="188.5" y="77.31" width="94.5" height="2.99" fill="url(#b19)"/>
<rect x="188.5" y="79.30" width="94.5" height="2.99" fill="url(#b20)"/>
<rect x="188.5" y="81.29" width="94.5" height="2.99" fill="url(#b21)"/>
<rect x="188.5" y="83.28" width="94.5" height="2.99" fill="url(#b22)"/>
<rect x="188.5" y="85.27" width="94.5" height="2.99" fill="url(#b23)"/>
<rect x="188.5" y="87.26" width="94.5" height="2.99" fill="url(#b24)"/>
<rect x="188.5" y="89.24" width="94.5" height="2.99" fill="url(#b25)"/>
<rect x="188.5" y="91.23" width="94.5" height="2.99" fill="url(#b26)"/>
<rect x="188.5" y="93.22" width="94.5" height="2.99" fill="url(#b27)"/>
<rect x="188.5" y="95.21" width="94.5" height="2.99" fill="url(#b28)"/>
<rect x="188.5" y="97.20" width="94.5" height="2.99" fill="url(#b29)"/>
<rect x="188.5" y="99.19" width="94.5" height="2.99" fill="url(#b30)"/>
<rect x="188.5" y="101.18" width="94.5" height="2.99" fill="url(#b31)"/>
<rect x="188.5" y="103.17" width="94.5" height="2.99" fill="url(#b32)"/>
<rect x="188.5" y="105.16" width="94.5" height="2.99" fill="url(#b33)"/>
<rect x="188.5" y="107.15" width="94.5" height="2.99" fill="url(#b34)"/>
<rect x="188.5" y="109.14" width="94.5" height="2.99" fill="url(#b35)"/>
<rect x="188.5" y="111.13" width="94.5" height="2.99" fill="url(#b36)"/>
<rect x="188.5" y="113.12" width="94.5" height="2.99" fill="url(#b37)"/>
<rect x="188.5" y="115.11" width="94.5" height="2.99" fill="url(#b38)"/>
<rect x="188.5" y="117.10" width="94.5" height="2.99" fill="url(#b39)"/>
<rect x="188.5" y="119.09" width="94.5" height="2.99" fill="url(#b40)"/>
<rect x="188.5" y="121.08" width="94.5" height="2.99" fill="url(#b41)"/>
<rect x="188.5" y="123.07" width="94.5" height="2.99" fill="url(#b42)"/>
<rect x="188.5" y="125.06" width="94.5" height="2.99" fill="url(#b43)"/>
<rect x="188.5" y="127.05" width="94.5" height="2.99" fill="url(#b44)"/>
<rect x="188.5" y="129.04" width="94.5" height="2.99" fill="url(#b45)"/>
<rect x="188.5" y="131.03" width="94.5" height="2.99" fill="url(#b46)"/>
<rect x="188.5" y="133.02" width="94.5" height="2.99" fill="url(#b47)"/>
<rect x="188.5" y="135.01" width="94.5" height="1.99" fill="url(#b48)"/>
<text x="186.1" y="42.0" font-family="Liberation Serif, serif" font-size="8.3" fill="#111" stroke="#111" stroke-width="0.18" text-anchor="end">0.8</text>
<path d="M188.5 39.5h1.5" stroke="#111" stroke-width="0.5"/>
<text x="186.1" y="58.2" font-family="Liberation Serif, serif" font-size="8.3" fill="#111" stroke="#111" stroke-width="0.18" text-anchor="end">0.7</text>
<path d="M188.5 55.8h1.5" stroke="#111" stroke-width="0.5"/>
<text x="186.1" y="74.5" font-family="Liberation Serif, serif" font-size="8.3" fill="#111" stroke="#111" stroke-width="0.18" text-anchor="end">0.6</text>
<path d="M188.5 72.0h1.5" stroke="#111" stroke-width="0.5"/>
<text x="186.1" y="90.7" font-family="Liberation Serif, serif" font-size="8.3" fill="#111" stroke="#111" stroke-width="0.18" text-anchor="end">0.5</text>
<path d="M188.5 88.2h1.5" stroke="#111" stroke-width="0.5"/>
<text x="186.1" y="107.0" font-family="Liberation Serif, serif" font-size="8.3" fill="#111" stroke="#111" stroke-width="0.18" text-anchor="end">0.4</text>
<path d="M188.5 104.5h1.5" stroke="#111" stroke-width="0.5"/>
<text x="186.1" y="123.2" font-family="Liberation Serif, serif" font-size="8.3" fill="#111" stroke="#111" stroke-width="0.18" text-anchor="end">0.3</text>
<path d="M188.5 120.8h1.5" stroke="#111" stroke-width="0.5"/>
<text x="186.1" y="139.4" font-family="Liberation Serif, serif" font-size="8.3" fill="#111" stroke="#111" stroke-width="0.18" text-anchor="end">0.2</text>
<path d="M188.5 137.0h1.5" stroke="#111" stroke-width="0.5"/>
<text x="188.5" y="145.6" font-family="Liberation Serif, serif" font-size="8.3" fill="#111" stroke="#111" stroke-width="0.18" text-anchor="middle">100</text>
<path d="M188.5 137v-1.5" stroke="#111" stroke-width="0.5"/>
<text x="204.2" y="145.6" font-family="Liberation Serif, serif" font-size="8.3" fill="#111" stroke="#111" stroke-width="0.18" text-anchor="middle">125</text>
<path d="M204.2 137v-1.5" stroke="#111" stroke-width="0.5"/>
<text x="220.0" y="145.6" font-family="Liberation Serif, serif" font-size="8.3" fill="#111" stroke="#111" stroke-width="0.18" text-anchor="middle">150</text>
<path d="M220.0 137v-1.5" stroke="#111" stroke-width="0.5"/>
<text x="235.8" y="145.6" font-family="Liberation Serif, serif" font-size="8.3" fill="#111" stroke="#111" stroke-width="0.18" text-anchor="middle">175</text>
<path d="M235.8 137v-1.5" stroke="#111" stroke-width="0.5"/>
<text x="251.5" y="145.6" font-family="Liberation Serif, serif" font-size="8.3" fill="#111" stroke="#111" stroke-width="0.18" text-anchor="middle">200</text>
<path d="M251.5 137v-1.5" stroke="#111" stroke-width="0.5"/>
<text x="267.2" y="145.6" font-family="Liberation Serif, serif" font-size="8.3" fill="#111" stroke="#111" stroke-width="0.18" text-anchor="middle">225</text>
<path d="M267.2 137v-1.5" stroke="#111" stroke-width="0.5"/>
<text x="283.0" y="145.6" font-family="Liberation Serif, serif" font-size="8.3" fill="#111" stroke="#111" stroke-width="0.18" text-anchor="middle">250</text>
<path d="M283.0 137v-1.5" stroke="#111" stroke-width="0.5"/>
<text x="237.8" y="160.7" font-family="Liberation Serif, serif" font-size="8.45" fill="#111" stroke="#111" stroke-width="0.18" text-anchor="middle">Period (nm)</text>
<text transform="translate(171.0 88.7) rotate(-90)" font-family="Liberation Serif, serif" font-size="8.5" fill="#111" stroke="#111" stroke-width="0.18" text-anchor="middle">Duty cycle</text>
<rect x="188.5" y="39.5" width="94.5" height="97.5" fill="none" stroke="#111" stroke-width="0.9"/>
<rect x="288.5" y="42.7" width="6.399999999999977" height="87.10000000000001" fill="url(#cb2)"/>
<text x="297.5" y="48.9" font-family="Liberation Serif, serif" font-size="8.4" fill="#111" stroke="#111" stroke-width="0.15">0.9</text>
<text x="297.5" y="130.4" font-family="Liberation Serif, serif" font-size="8.4" fill="#111" stroke="#111" stroke-width="0.15">0.6</text>
<rect x="47.2" y="166.00" width="94.3" height="3.00" fill="url(#c0)"/>
<rect x="47.2" y="168.00" width="94.3" height="3.00" fill="url(#c1)"/>
<rect x="47.2" y="170.00" width="94.3" height="3.00" fill="url(#c2)"/>
<rect x="47.2" y="172.00" width="94.3" height="3.00" fill="url(#c3)"/>
<rect x="47.2" y="174.00" width="94.3" height="3.00" fill="url(#c4)"/>
<rect x="47.2" y="176.00" width="94.3" height="3.00" fill="url(#c5)"/>
<rect x="47.2" y="178.00" width="94.3" height="3.00" fill="url(#c6)"/>
<rect x="47.2" y="180.00" width="94.3" height="3.00" fill="url(#c7)"/>
<rect x="47.2" y="182.00" width="94.3" height="3.00" fill="url(#c8)"/>
<rect x="47.2" y="184.00" width="94.3" height="3.00" fill="url(#c9)"/>
<rect x="47.2" y="186.00" width="94.3" height="3.00" fill="url(#c10)"/>
<rect x="47.2" y="188.00" width="94.3" height="3.00" fill="url(#c11)"/>
<rect x="47.2" y="190.00" width="94.3" height="3.00" fill="url(#c12)"/>
<rect x="47.2" y="192.00" width="94.3" height="3.00" fill="url(#c13)"/>
<rect x="47.2" y="194.00" width="94.3" height="3.00" fill="url(#c14)"/>
<rect x="47.2" y="196.00" width="94.3" height="3.00" fill="url(#c15)"/>
<rect x="47.2" y="198.00" width="94.3" height="3.00" fill="url(#c16)"/>
<rect x="47.2" y="200.00" width="94.3" height="3.00" fill="url(#c17)"/>
<rect x="47.2" y="202.00" width="94.3" height="3.00" fill="url(#c18)"/>
<rect x="47.2" y="204.00" width="94.3" height="3.00" fill="url(#c19)"/>
<rect x="47.2" y="206.00" width="94.3" height="3.00" fill="url(#c20)"/>
<rect x="47.2" y="208.00" width="94.3" height="3.00" fill="url(#c21)"/>
<rect x="47.2" y="210.00" width="94.3" height="3.00" fill="url(#c22)"/>
<rect x="47.2" y="212.00" width="94.3" height="3.00" fill="url(#c23)"/>
<rect x="47.2" y="214.00" width="94.3" height="3.00" fill="url(#c24)"/>
<rect x="47.2" y="216.00" width="94.3" height="3.00" fill="url(#c25)"/>
<rect x="47.2" y="218.00" width="94.3" height="3.00" fill="url(#c26)"/>
<rect x="47.2" y="220.00" width="94.3" height="3.00" fill="url(#c27)"/>
<rect x="47.2" y="222.00" width="94.3" height="3.00" fill="url(#c28)"/>
<rect x="47.2" y="224.00" width="94.3" height="3.00" fill="url(#c29)"/>
<rect x="47.2" y="226.00" width="94.3" height="3.00" fill="url(#c30)"/>
<rect x="47.2" y="228.00" width="94.3" height="3.00" fill="url(#c31)"/>
<rect x="47.2" y="230.00" width="94.3" height="3.00" fill="url(#c32)"/>
<rect x="47.2" y="232.00" width="94.3" height="3.00" fill="url(#c33)"/>
<rect x="47.2" y="234.00" width="94.3" height="3.00" fill="url(#c34)"/>
<rect x="47.2" y="236.00" width="94.3" height="3.00" fill="url(#c35)"/>
<rect x="47.2" y="238.00" width="94.3" height="3.00" fill="url(#c36)"/>
<rect x="47.2" y="240.00" width="94.3" height="3.00" fill="url(#c37)"/>
<rect x="47.2" y="242.00" width="94.3" height="3.00" fill="url(#c38)"/>
<rect x="47.2" y="244.00" width="94.3" height="3.00" fill="url(#c39)"/>
<rect x="47.2" y="246.00" width="94.3" height="3.00" fill="url(#c40)"/>
<rect x="47.2" y="248.00" width="94.3" height="3.00" fill="url(#c41)"/>
<rect x="47.2" y="250.00" width="94.3" height="3.00" fill="url(#c42)"/>
<rect x="47.2" y="252.00" width="94.3" height="3.00" fill="url(#c43)"/>
<rect x="47.2" y="254.00" width="94.3" height="3.00" fill="url(#c44)"/>
<rect x="47.2" y="256.00" width="94.3" height="3.00" fill="url(#c45)"/>
<rect x="47.2" y="258.00" width="94.3" height="3.00" fill="url(#c46)"/>
<rect x="47.2" y="260.00" width="94.3" height="3.00" fill="url(#c47)"/>
<rect x="47.2" y="262.00" width="94.3" height="2.00" fill="url(#c48)"/>
<text x="45.3" y="168.8" font-family="Liberation Serif, serif" font-size="8.3" fill="#111" stroke="#111" stroke-width="0.18" text-anchor="end">0.8</text>
<path d="M47.2 166.0h1.5" stroke="#111" stroke-width="0.5"/>
<text x="45.3" y="185.1" font-family="Liberation Serif, serif" font-size="8.3" fill="#111" stroke="#111" stroke-width="0.18" text-anchor="end">0.7</text>
<path d="M47.2 182.3h1.5" stroke="#111" stroke-width="0.5"/>
<text x="45.3" y="201.5" font-family="Liberation Serif, serif" font-size="8.3" fill="#111" stroke="#111" stroke-width="0.18" text-anchor="end">0.6</text>
<path d="M47.2 198.7h1.5" stroke="#111" stroke-width="0.5"/>
<text x="45.3" y="217.8" font-family="Liberation Serif, serif" font-size="8.3" fill="#111" stroke="#111" stroke-width="0.18" text-anchor="end">0.5</text>
<path d="M47.2 215.0h1.5" stroke="#111" stroke-width="0.5"/>
<text x="45.3" y="234.1" font-family="Liberation Serif, serif" font-size="8.3" fill="#111" stroke="#111" stroke-width="0.18" text-anchor="end">0.4</text>
<path d="M47.2 231.3h1.5" stroke="#111" stroke-width="0.5"/>
<text x="45.3" y="250.5" font-family="Liberation Serif, serif" font-size="8.3" fill="#111" stroke="#111" stroke-width="0.18" text-anchor="end">0.3</text>
<path d="M47.2 247.7h1.5" stroke="#111" stroke-width="0.5"/>
<text x="45.3" y="266.8" font-family="Liberation Serif, serif" font-size="8.3" fill="#111" stroke="#111" stroke-width="0.18" text-anchor="end">0.2</text>
<path d="M47.2 264.0h1.5" stroke="#111" stroke-width="0.5"/>
<text x="47.2" y="272.6" font-family="Liberation Serif, serif" font-size="8.3" fill="#111" stroke="#111" stroke-width="0.18" text-anchor="middle">100</text>
<path d="M47.2 264v-1.5" stroke="#111" stroke-width="0.5"/>
<text x="62.9" y="272.6" font-family="Liberation Serif, serif" font-size="8.3" fill="#111" stroke="#111" stroke-width="0.18" text-anchor="middle">125</text>
<path d="M62.9 264v-1.5" stroke="#111" stroke-width="0.5"/>
<text x="78.6" y="272.6" font-family="Liberation Serif, serif" font-size="8.3" fill="#111" stroke="#111" stroke-width="0.18" text-anchor="middle">150</text>
<path d="M78.6 264v-1.5" stroke="#111" stroke-width="0.5"/>
<text x="94.3" y="272.6" font-family="Liberation Serif, serif" font-size="8.3" fill="#111" stroke="#111" stroke-width="0.18" text-anchor="middle">175</text>
<path d="M94.3 264v-1.5" stroke="#111" stroke-width="0.5"/>
<text x="110.1" y="272.6" font-family="Liberation Serif, serif" font-size="8.3" fill="#111" stroke="#111" stroke-width="0.18" text-anchor="middle">200</text>
<path d="M110.1 264v-1.5" stroke="#111" stroke-width="0.5"/>
<text x="125.8" y="272.6" font-family="Liberation Serif, serif" font-size="8.3" fill="#111" stroke="#111" stroke-width="0.18" text-anchor="middle">225</text>
<path d="M125.8 264v-1.5" stroke="#111" stroke-width="0.5"/>
<text x="141.5" y="272.6" font-family="Liberation Serif, serif" font-size="8.3" fill="#111" stroke="#111" stroke-width="0.18" text-anchor="middle">250</text>
<path d="M141.5 264v-1.5" stroke="#111" stroke-width="0.5"/>
<text x="94.3" y="286.9" font-family="Liberation Serif, serif" font-size="8.45" fill="#111" stroke="#111" stroke-width="0.18" text-anchor="middle">Period (nm)</text>
<text transform="translate(29.400000000000002 215.4) rotate(-90)" font-family="Liberation Serif, serif" font-size="8.5" fill="#111" stroke="#111" stroke-width="0.18" text-anchor="middle">Duty cycle</text>
<rect x="47.2" y="166" width="94.3" height="98" fill="none" stroke="#111" stroke-width="0.9"/>
<rect x="146.8" y="169.8" width="6.399999999999977" height="87.80000000000001" fill="url(#cb3)"/>
<text x="157.0" y="177.5" font-family="Liberation Serif, serif" font-size="8.4" fill="#111" stroke="#111" stroke-width="0.15">0.3</text>
<text x="159.0" y="258.4" font-family="Liberation Serif, serif" font-size="8.4" fill="#111" stroke="#111" stroke-width="0.15">0</text>
<rect x="190.5" y="167.50" width="94.69999999999999" height="2.99" fill="url(#d0)"/>
<rect x="190.5" y="169.49" width="94.69999999999999" height="2.99" fill="url(#d1)"/>
<rect x="190.5" y="171.49" width="94.69999999999999" height="2.99" fill="url(#d2)"/>
<rect x="190.5" y="173.48" width="94.69999999999999" height="2.99" fill="url(#d3)"/>
<rect x="190.5" y="175.48" width="94.69999999999999" height="2.99" fill="url(#d4)"/>
<rect x="190.5" y="177.47" width="94.69999999999999" height="2.99" fill="url(#d5)"/>
<rect x="190.5" y="179.46" width="94.69999999999999" height="2.99" fill="url(#d6)"/>
<rect x="190.5" y="181.46" width="94.69999999999999" height="2.99" fill="url(#d7)"/>
<rect x="190.5" y="183.45" width="94.69999999999999" height="2.99" fill="url(#d8)"/>
<rect x="190.5" y="185.44" width="94.69999999999999" height="2.99" fill="url(#d9)"/>
<rect x="190.5" y="187.44" width="94.69999999999999" height="2.99" fill="url(#d10)"/>
<rect x="190.5" y="189.43" width="94.69999999999999" height="2.99" fill="url(#d11)"/>
<rect x="190.5" y="191.43" width="94.69999999999999" height="2.99" fill="url(#d12)"/>
<rect x="190.5" y="193.42" width="94.69999999999999" height="2.99" fill="url(#d13)"/>
<rect x="190.5" y="195.41" width="94.69999999999999" height="2.99" fill="url(#d14)"/>
<rect x="190.5" y="197.41" width="94.69999999999999" height="2.99" fill="url(#d15)"/>
<rect x="190.5" y="199.40" width="94.69999999999999" height="2.99" fill="url(#d16)"/>
<rect x="190.5" y="201.40" width="94.69999999999999" height="2.99" fill="url(#d17)"/>
<rect x="190.5" y="203.39" width="94.69999999999999" height="2.99" fill="url(#d18)"/>
<rect x="190.5" y="205.38" width="94.69999999999999" height="2.99" fill="url(#d19)"/>
<rect x="190.5" y="207.38" width="94.69999999999999" height="2.99" fill="url(#d20)"/>
<rect x="190.5" y="209.37" width="94.69999999999999" height="2.99" fill="url(#d21)"/>
<rect x="190.5" y="211.37" width="94.69999999999999" height="2.99" fill="url(#d22)"/>
<rect x="190.5" y="213.36" width="94.69999999999999" height="2.99" fill="url(#d23)"/>
<rect x="190.5" y="215.35" width="94.69999999999999" height="2.99" fill="url(#d24)"/>
<rect x="190.5" y="217.35" width="94.69999999999999" height="2.99" fill="url(#d25)"/>
<rect x="190.5" y="219.34" width="94.69999999999999" height="2.99" fill="url(#d26)"/>
<rect x="190.5" y="221.33" width="94.69999999999999" height="2.99" fill="url(#d27)"/>
<rect x="190.5" y="223.33" width="94.69999999999999" height="2.99" fill="url(#d28)"/>
<rect x="190.5" y="225.32" width="94.69999999999999" height="2.99" fill="url(#d29)"/>
<rect x="190.5" y="227.32" width="94.69999999999999" height="2.99" fill="url(#d30)"/>
<rect x="190.5" y="229.31" width="94.69999999999999" height="2.99" fill="url(#d31)"/>
<rect x="190.5" y="231.30" width="94.69999999999999" height="2.99" fill="url(#d32)"/>
<rect x="190.5" y="233.30" width="94.69999999999999" height="2.99" fill="url(#d33)"/>
<rect x="190.5" y="235.29" width="94.69999999999999" height="2.99" fill="url(#d34)"/>
<rect x="190.5" y="237.29" width="94.69999999999999" height="2.99" fill="url(#d35)"/>
<rect x="190.5" y="239.28" width="94.69999999999999" height="2.99" fill="url(#d36)"/>
<rect x="190.5" y="241.27" width="94.69999999999999" height="2.99" fill="url(#d37)"/>
<rect x="190.5" y="243.27" width="94.69999999999999" height="2.99" fill="url(#d38)"/>
<rect x="190.5" y="245.26" width="94.69999999999999" height="2.99" fill="url(#d39)"/>
<rect x="190.5" y="247.26" width="94.69999999999999" height="2.99" fill="url(#d40)"/>
<rect x="190.5" y="249.25" width="94.69999999999999" height="2.99" fill="url(#d41)"/>
<rect x="190.5" y="251.24" width="94.69999999999999" height="2.99" fill="url(#d42)"/>
<rect x="190.5" y="253.24" width="94.69999999999999" height="2.99" fill="url(#d43)"/>
<rect x="190.5" y="255.23" width="94.69999999999999" height="2.99" fill="url(#d44)"/>
<rect x="190.5" y="257.22" width="94.69999999999999" height="2.99" fill="url(#d45)"/>
<rect x="190.5" y="259.22" width="94.69999999999999" height="2.99" fill="url(#d46)"/>
<rect x="190.5" y="261.21" width="94.69999999999999" height="2.99" fill="url(#d47)"/>
<rect x="190.5" y="263.21" width="94.69999999999999" height="1.99" fill="url(#d48)"/>
<text x="188.8" y="170.0" font-family="Liberation Serif, serif" font-size="8.3" fill="#111" stroke="#111" stroke-width="0.18" text-anchor="end">0.8</text>
<path d="M190.5 167.5h1.5" stroke="#111" stroke-width="0.5"/>
<text x="188.8" y="186.3" font-family="Liberation Serif, serif" font-size="8.3" fill="#111" stroke="#111" stroke-width="0.18" text-anchor="end">0.7</text>
<path d="M190.5 183.8h1.5" stroke="#111" stroke-width="0.5"/>
<text x="188.8" y="202.6" font-family="Liberation Serif, serif" font-size="8.3" fill="#111" stroke="#111" stroke-width="0.18" text-anchor="end">0.6</text>
<path d="M190.5 200.1h1.5" stroke="#111" stroke-width="0.5"/>
<text x="188.8" y="218.8" font-family="Liberation Serif, serif" font-size="8.3" fill="#111" stroke="#111" stroke-width="0.18" text-anchor="end">0.5</text>
<path d="M190.5 216.3h1.5" stroke="#111" stroke-width="0.5"/>
<text x="188.8" y="235.1" font-family="Liberation Serif, serif" font-size="8.3" fill="#111" stroke="#111" stroke-width="0.18" text-anchor="end">0.4</text>
<path d="M190.5 232.6h1.5" stroke="#111" stroke-width="0.5"/>
<text x="188.8" y="251.4" font-family="Liberation Serif, serif" font-size="8.3" fill="#111" stroke="#111" stroke-width="0.18" text-anchor="end">0.3</text>
<path d="M190.5 248.9h1.5" stroke="#111" stroke-width="0.5"/>
<text x="188.8" y="267.7" font-family="Liberation Serif, serif" font-size="8.3" fill="#111" stroke="#111" stroke-width="0.18" text-anchor="end">0.2</text>
<path d="M190.5 265.2h1.5" stroke="#111" stroke-width="0.5"/>
<text x="190.5" y="273.8" font-family="Liberation Serif, serif" font-size="8.3" fill="#111" stroke="#111" stroke-width="0.18" text-anchor="middle">100</text>
<path d="M190.5 265.2v-1.5" stroke="#111" stroke-width="0.5"/>
<text x="206.3" y="273.8" font-family="Liberation Serif, serif" font-size="8.3" fill="#111" stroke="#111" stroke-width="0.18" text-anchor="middle">125</text>
<path d="M206.3 265.2v-1.5" stroke="#111" stroke-width="0.5"/>
<text x="222.1" y="273.8" font-family="Liberation Serif, serif" font-size="8.3" fill="#111" stroke="#111" stroke-width="0.18" text-anchor="middle">150</text>
<path d="M222.1 265.2v-1.5" stroke="#111" stroke-width="0.5"/>
<text x="237.8" y="273.8" font-family="Liberation Serif, serif" font-size="8.3" fill="#111" stroke="#111" stroke-width="0.18" text-anchor="middle">175</text>
<path d="M237.8 265.2v-1.5" stroke="#111" stroke-width="0.5"/>
<text x="253.6" y="273.8" font-family="Liberation Serif, serif" font-size="8.3" fill="#111" stroke="#111" stroke-width="0.18" text-anchor="middle">200</text>
<path d="M253.6 265.2v-1.5" stroke="#111" stroke-width="0.5"/>
<text x="269.4" y="273.8" font-family="Liberation Serif, serif" font-size="8.3" fill="#111" stroke="#111" stroke-width="0.18" text-anchor="middle">225</text>
<path d="M269.4 265.2v-1.5" stroke="#111" stroke-width="0.5"/>
<text x="285.2" y="273.8" font-family="Liberation Serif, serif" font-size="8.3" fill="#111" stroke="#111" stroke-width="0.18" text-anchor="middle">250</text>
<path d="M285.2 265.2v-1.5" stroke="#111" stroke-width="0.5"/>
<text x="237.8" y="287.7" font-family="Liberation Serif, serif" font-size="8.45" fill="#111" stroke="#111" stroke-width="0.18" text-anchor="middle">Period (nm)</text>
<text transform="translate(173.60000000000002 216.8) rotate(-90)" font-family="Liberation Serif, serif" font-size="8.5" fill="#111" stroke="#111" stroke-width="0.18" text-anchor="middle">Duty cycle</text>
<rect x="190.5" y="167.5" width="94.69999999999999" height="97.69999999999999" fill="none" stroke="#111" stroke-width="0.9"/>
<rect x="291" y="169.8" width="6.199999999999989" height="87.39999999999998" fill="url(#cb4)"/>
<text x="301.8" y="176.0" font-family="Liberation Serif, serif" font-size="8.4" fill="#111" stroke="#111" stroke-width="0.15">65</text>
<text x="304.2" y="258.4" font-family="Liberation Serif, serif" font-size="8.4" fill="#111" stroke="#111" stroke-width="0.15">0</text>
<path d="M334 190.2L513.4 191.2L514.7 193.4L334 192.2z" fill="#0b2350"/>
<path d="M334 192.2L514.7 193.4L514.6 204.2Q514.6 206.2 512.6 206.2L334 205.2z" fill="url(#gSi)"/>
<path d="M334 183.3L349.6 166.2L373 144.8L498 143L511.6 186z" fill="#98a7ae"/>
<path d="M334 183.3L511.6 186L511.6 191.9L334 190.3z" fill="#8a959b"/>
<path d="M334 183.3L511.6 186L511.6 188.2L334 186.4z" fill="#c3cdd2"/>
<path d="M498 143L499.2 143L512.6 186L511.6 186z" fill="#6d7a82"/>
<path d="M349.6 134L380 112.6L485 111.4L497.6 143.4L373 144.8L349.6 166.2z" fill="url(#gTop)"/>
<path d="M373 144.8L496.2 143.6L496.2 182.4L420 181.2L349.6 175.7L349.6 166.2z" fill="url(#gFront)"/>
<path d="M373 144.8L496.2 143.6L496.2 182.4L420 181.2L349.6 175.7L349.6 166.2z" fill="url(#gFrontV)"/>
<ellipse cx="402" cy="170" rx="52" ry="20" fill="url(#gGlow3)"/>
<ellipse cx="405" cy="180" rx="46" ry="8" fill="url(#gGlow)"/>
<ellipse cx="400" cy="183" rx="60" ry="5" fill="url(#gGlow4)"/>
<ellipse cx="405" cy="191.6" rx="40" ry="1.6" fill="url(#gGlow2)"/>
<path d="M372.3 128.2L392 112.2L470.4 111.8L477.2 128.2z" fill="url(#gBlue)"/>
<path d="M392.6 145.5l2.38 -5.61l2.29 -2.44l0.17 -3.34l2.38 -5.61M395.0 139.9l0.17 -3.34l2.29 -2.44M399.6 145.5l2.38 -5.61l2.29 -2.44l0.17 -3.34l2.38 -5.61M402.0 139.9l0.17 -3.34l2.29 -2.44M403.6 145.5l2.38 -5.61l2.29 -2.44l0.17 -3.34l2.38 -5.61M406.0 139.9l0.17 -3.34l2.29 -2.44M395.9 163.5l2.31 -5.45l2.25 -2.36l0.13 -3.25l2.31 -5.45M398.2 158.1l0.13 -3.25l2.25 -2.36M410.6 145.5l2.38 -5.61l2.29 -2.44l0.17 -3.34l2.38 -5.61M413.0 139.9l0.17 -3.34l2.29 -2.44M402.9 163.5l2.31 -5.45l2.25 -2.36l0.13 -3.25l2.31 -5.45M405.2 158.1l0.13 -3.25l2.25 -2.36M396.4 179.0l1.96 -4.62l2.07 -1.93l-0.05 -2.83l1.96 -4.62M398.3 174.4l-0.05 -2.83l2.07 -1.93M414.6 145.5l2.38 -5.61l2.29 -2.44l0.17 -3.34l2.38 -5.61M417.0 139.9l0.17 -3.34l2.29 -2.44M406.9 163.5l2.31 -5.45l2.25 -2.36l0.13 -3.25l2.31 -5.45M409.2 158.1l0.13 -3.25l2.25 -2.36M400.4 179.0l1.96 -4.62l2.07 -1.93l-0.05 -2.83l1.96 -4.62M402.3 174.4l-0.05 -2.83l2.07 -1.93M421.6 145.5l2.38 -5.61l2.29 -2.44l0.17 -3.34l2.38 -5.61M424.0 139.9l0.17 -3.34l2.29 -2.44M413.9 163.5l2.31 -5.45l2.25 -2.36l0.13 -3.25l2.31 -5.45M416.2 158.1l0.13 -3.25l2.25 -2.36M407.4 179.0l1.96 -4.62l2.07 -1.93l-0.05 -2.83l1.96 -4.62M409.3 174.4l-0.05 -2.83l2.07 -1.93M425.6 145.5l2.38 -5.61l2.29 -2.44l0.17 -3.34l2.38 -5.61M428.0 139.9l0.17 -3.34l2.29 -2.44M417.9 163.5l2.31 -5.45l2.25 -2.36l0.13 -3.25l2.31 -5.45M420.2 158.1l0.13 -3.25l2.25 -2.36M411.4 179.0l1.96 -4.62l2.07 -1.93l-0.05 -2.83l1.96 -4.62M413.3 174.4l-0.05 -2.83l2.07 -1.93M433.1 145.5l2.38 -5.61l2.29 -2.44l0.17 -3.34l2.38 -5.61M435.5 139.9l0.17 -3.34l2.29 -2.44M425.4 163.5l2.31 -5.45l2.25 -2.36l0.13 -3.25l2.31 -5.45M427.7 158.1l0.13 -3.25l2.25 -2.36M418.9 179.0l1.96 -4.62l2.07 -1.93l-0.05 -2.83l1.96 -4.62M420.8 174.4l-0.05 -2.83l2.07 -1.93M437.1 145.5l2.38 -5.61l2.29 -2.44l0.17 -3.34l2.38 -5.61M439.5 139.9l0.17 -3.34l2.29 -2.44M429.4 163.5l2.31 -5.45l2.25 -2.36l0.13 -3.25l2.31 -5.45M431.7 158.1l0.13 -3.25l2.25 -2.36M422.9 179.0l1.96 -4.62l2.07 -1.93l-0.05 -2.83l1.96 -4.62M424.8 174.4l-0.05 -2.83l2.07 -1.93M444.6 145.5l2.38 -5.61l2.29 -2.44l0.17 -3.34l2.38 -5.61M447.0 139.9l0.17 -3.34l2.29 -2.44M436.9 163.5l2.31 -5.45l2.25 -2.36l0.13 -3.25l2.31 -5.45M439.2 158.1l0.13 -3.25l2.25 -2.36M430.4 179.0l1.96 -4.62l2.07 -1.93l-0.05 -2.83l1.96 -4.62M432.3 174.4l-0.05 -2.83l2.07 -1.93M448.6 145.5l2.38 -5.61l2.29 -2.44l0.17 -3.34l2.38 -5.61M451.0 139.9l0.17 -3.34l2.29 -2.44M440.9 163.5l2.31 -5.45l2.25 -2.36l0.13 -3.25l2.31 -5.45M443.2 158.1l0.13 -3.25l2.25 -2.36M434.4 179.0l1.96 -4.62l2.07 -1.93l-0.05 -2.83l1.96 -4.62M436.3 174.4l-0.05 -2.83l2.07 -1.93M455.6 145.5l2.38 -5.61l2.29 -2.44l0.17 -3.34l2.38 -5.61M458.0 139.9l0.17 -3.34l2.29 -2.44M441.4 179.0l1.96 -4.62l2.07 -1.93l-0.05 -2.83l1.96 -4.62M443.3 174.4l-0.05 -2.83l2.07 -1.93M459.6 145.5l2.38 -5.61l2.29 -2.44l0.17 -3.34l2.38 -5.61M462.0 139.9l0.17 -3.34l2.29 -2.44M445.4 179.0l1.96 -4.62l2.07 -1.93l-0.05 -2.83l1.96 -4.62M447.3 174.4l-0.05 -2.83l2.07 -1.93" fill="none" stroke="#ef8670" stroke-width="0.9" opacity="0.78"/>
<ellipse cx="394" cy="152" rx="13" ry="11" fill="url(#gGlow)" opacity="0.55"/>
<path d="M398.9 129.6C396.8 132.0 391.1 134.9 391.5 138.3C391.9 141.7 401.6 139.7 400.3 141.9C399.0 144.1 384.9 143.1 386.9 146.3C388.9 149.5 409.0 151.1 407.5 153.5C406.0 155.9 385.0 152.6 381.6 154.9C378.2 157.2 394.7 159.2 395.5 161.8C396.3 164.4 386.1 162.0 384.3 164.2C382.5 166.4 387.6 168.2 388.9 169.8" fill="none" stroke="#f5981a" stroke-width="2" stroke-linecap="round" stroke-linejoin="round"/>
<path d="M398.9 129.6C396.8 132.0 391.1 134.9 391.5 138.3C391.9 141.7 401.6 139.7 400.3 141.9C399.0 144.1 384.9 143.1 386.9 146.3C388.9 149.5 409.0 151.1 407.5 153.5C406.0 155.9 385.0 152.6 381.6 154.9C378.2 157.2 394.7 159.2 395.5 161.8C396.3 164.4 386.1 162.0 384.3 164.2C382.5 166.4 387.6 168.2 388.9 169.8" fill="none" stroke="#ffc766" stroke-width="0.6" stroke-linecap="round"/>
<path d="M406 134C411 138 409 148 403 152" fill="none" stroke="#6a8fe4" stroke-width="1.2"/>
<path d="M380 170C376 164 378 157 384 155" fill="none" stroke="#6a8fe4" stroke-width="1.2"/>
<circle cx="406" cy="131.2" r="3" fill="url(#gE)"/>
<circle cx="393.7" cy="150.7" r="3.1" fill="url(#gH)"/><path d="M392.0 150.7h3.4M393.7 149.0v3.4" stroke="#fff" stroke-width="0.9"/>
<circle cx="380" cy="172.6" r="3.1" fill="url(#gH)"/><path d="M378.3 172.6h3.4M380 170.9v3.4" stroke="#fff" stroke-width="0.9"/>
<path d="M440 110.3L467.5 110.3L469 113.2L437.5 113.2z" fill="#adb6ba"/><path d="M437.5 113.2H469V115.2H437.5z" fill="#7d888e"/>
<path d="M437 116L469 116L471 121.6L433.5 121.6z" fill="#adb6ba"/><path d="M433.5 121.6H471V124.2H433.5z" fill="#7d888e"/>
<circle cx="470.5" cy="120" r="2.4" fill="#fff" opacity="0.8"/>
<path d="M383.2 122L390.5 116.4L421 116.4L416.8 122z" fill="#e4f2fb"/><path d="M383.2 122H416.8V123.2H383.2z" fill="#a5c0e4"/>
<path d="M376.6 91.5L393.8 117.4Q398.4 119.6 403 117.4L404 91z" fill="#f7b294" opacity="0.66"/>
<ellipse cx="390.3" cy="91.3" rx="13.7" ry="4.2" fill="#fac6ae" opacity="0.85"/>
<path d="M402.5 90.5L406.2 117.8Q410.8 119.9 415.4 117.8L430.7 90.5z" fill="#fbe08a" opacity="0.66"/>
<ellipse cx="416.6" cy="90.5" rx="14" ry="4.1" fill="#fce9a6" opacity="0.9" stroke="#d6a318" stroke-width="1.2"/>
<path d="M396.5 118L397.3 110M400.5 118.3L401.2 111M408.6 118.3L408 111M412.6 118L413.4 110" stroke="#fff" stroke-width="0.8" opacity="0.8"/>
<ellipse cx="393.3" cy="97.1" rx="7.4" ry="2.4" fill="none" stroke="#3fc3e0" stroke-width="1.1" transform="rotate(-8 393.3 97.1)"/>
<ellipse cx="395.5" cy="103.6" rx="6.6" ry="2.2" fill="none" stroke="#3fc3e0" stroke-width="1.1" transform="rotate(-8 395.5 103.6)"/>
<ellipse cx="397.9" cy="109.4" rx="5.2" ry="1.7" fill="none" stroke="#3fc3e0" stroke-width="1.1" transform="rotate(-8 397.9 109.4)"/>
<ellipse cx="399.6" cy="114" rx="3.4" ry="1.1" fill="none" stroke="#3fc3e0" stroke-width="1.1" transform="rotate(-8 399.6 114)"/>
<ellipse cx="415.3" cy="97.1" rx="9" ry="2.7" fill="none" stroke="#abdc9a" stroke-width="1.1" transform="rotate(6 415.3 97.1)"/>
<ellipse cx="414.6" cy="103.2" rx="7.6" ry="2.3" fill="none" stroke="#abdc9a" stroke-width="1.1" transform="rotate(6 414.6 103.2)"/>
<ellipse cx="413" cy="109.4" rx="5.2" ry="1.6" fill="none" stroke="#abdc9a" stroke-width="1.1" transform="rotate(6 413 109.4)"/>
<ellipse cx="411.4" cy="114" rx="3.2" ry="1.0" fill="none" stroke="#abdc9a" stroke-width="1.1" transform="rotate(6 411.4 114)"/>
<path d="M391.3 93.3L401.6 116.5" stroke="#1f9bc8" stroke-width="1.6" stroke-linecap="round"/>
<path d="M415.8 92.8L408.6 117" stroke="#5bb577" stroke-width="1.6" stroke-linecap="round"/>
<circle cx="391.2" cy="93" r="1.2" fill="#1a78b8"/>
<path d="M387.5 119V108.3H322.6L323 121.8M324 126.6L328.5 171.4H346.5" fill="none" stroke="#a9a93a" stroke-width="1"/>
<path d="M320 121.8H326.6M317.3 126.6H330" fill="none" stroke="#a9a93a" stroke-width="1"/>
<path d="M349.4 134.2L365 122.9" stroke="#222" stroke-width="0.9" marker-end="url(#ah2)"/>
<path d="M349.4 134.4H383" stroke="#222" stroke-width="0.9" marker-end="url(#ah2)"/>
<text transform="translate(345.4 133.8) rotate(-35.5)" font-family="Liberation Serif, serif" font-size="6" font-weight="bold" fill="#111">X-direction</text>
<text x="351.2" y="142.4" font-family="Liberation Serif, serif" font-size="6.05" font-weight="bold" fill="#111">Y-direction</text>
<path d="M463.9 149.3L453.3 171.2H471.9" fill="none" stroke="#1a1a1a" stroke-width="1.25"/>
<path d="M458.6 160.3A11 11 0 0 1 464.2 170.6" fill="none" stroke="#fff" stroke-width="0.9"/>
<text x="468.4" y="166" font-family="Liberation Serif, serif" font-size="8" font-weight="bold" fill="#fff">63°</text>
<text x="486.8" y="112.8" font-family="Liberation Serif, serif" font-size="9.2" font-weight="bold" fill="#111" text-anchor="start">Ag (35 nm)</text>
<text x="493.2" y="124.2" font-family="Liberation Serif, serif" font-size="9.2" font-weight="bold" fill="#111" text-anchor="start">CsF (10 nm)</text>
<text x="504.2" y="147.7" font-family="Liberation Serif, serif" font-size="9.2" font-weight="bold" fill="#111" text-anchor="start">6M-DSB</text>
<text x="504" y="159.8" font-family="Liberation Serif, serif" font-size="9.2" font-weight="bold" fill="#111" text-anchor="start">(990 nm)</text>
<text x="517.6" y="176" font-family="Liberation Serif, serif" font-size="9.2" font-weight="bold" fill="#111" text-anchor="start">Ag</text>
<text x="507.7" y="186" font-family="Liberation Serif, serif" font-size="9.2" font-weight="bold" fill="#111" text-anchor="start">(200 nm</text>
<path d="M483.5 110.8H468" stroke="#1a1a1a" stroke-width="1.1" marker-end="url(#ah)"/>
<path d="M491.5 120.7H470.3" stroke="#1a1a1a" stroke-width="1.1" marker-end="url(#ah)"/>
<path d="M502 149.9H480" stroke="#1a1a1a" stroke-width="1.1" marker-end="url(#ah)"/>
<path d="M505.5 183.4L478 188.5" stroke="#1a1a1a" stroke-width="1.1" marker-end="url(#ah)"/>
<text x="407.5" y="201.5" font-family="Liberation Serif, serif" font-size="10.2" fill="#fff" stroke="#fff" stroke-width="0.15">Silicon wafer</text></svg></body></html>
